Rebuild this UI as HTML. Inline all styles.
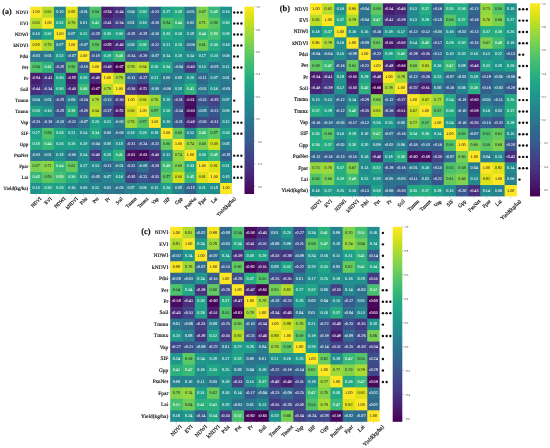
<!DOCTYPE html>
<html><head><meta charset="utf-8"><title>Correlation heatmaps</title>
<style>
html,body{margin:0;padding:0;background:#fff}
svg{display:block}
text{text-rendering:geometricPrecision;font-family:"Liberation Serif","Times New Roman",serif}
.an{text-anchor:middle;stroke-width:0.07px}
.w{fill:#fff;stroke:#fff;opacity:0.92}
.d{fill:#262626;stroke:#262626;opacity:0.9}
.yl{text-anchor:end;fill:#111;stroke:#111;stroke-width:0.16px}
.xl{text-anchor:middle;fill:#111;stroke:#111;stroke-width:0.16px}
.cb{fill:#222}
.pl{font-weight:bold;fill:#111;stroke:#111;stroke-width:0.15px}
.st{fill:#111}
.tk{stroke:#444;stroke-width:0.25}
</style></head>
<body>
<svg width="550" height="448" viewBox="0 0 550 448">
<rect width="550" height="448" fill="#fff"/>
<g id="panel-a">
<text class="pl" font-size="8.10" x="2.2" y="14.2">(a)</text>
<g>
<rect x="30.20" y="6.70" width="12.47" height="11.62" fill="#fde725"/><rect x="42.07" y="6.70" width="12.47" height="11.62" fill="#b8de29"/><rect x="53.94" y="6.70" width="12.47" height="11.62" fill="#24878e"/><rect x="65.81" y="6.70" width="12.47" height="11.62" fill="#ece51b"/><rect x="77.68" y="6.70" width="12.47" height="11.62" fill="#2a778e"/><rect x="89.55" y="6.70" width="12.47" height="11.62" fill="#50c46a"/><rect x="101.42" y="6.70" width="12.47" height="11.62" fill="#481c6e"/><rect x="113.29" y="6.70" width="12.47" height="11.62" fill="#46307e"/><rect x="125.16" y="6.70" width="12.47" height="11.62" fill="#277e8e"/><rect x="137.04" y="6.70" width="12.47" height="11.62" fill="#20a386"/><rect x="148.91" y="6.70" width="12.47" height="11.62" fill="#39558c"/><rect x="160.78" y="6.70" width="12.47" height="11.62" fill="#1fa088"/><rect x="172.65" y="6.70" width="12.47" height="11.62" fill="#25ab82"/><rect x="184.52" y="6.70" width="12.47" height="11.62" fill="#2a778e"/><rect x="196.39" y="6.70" width="12.47" height="11.62" fill="#7cd250"/><rect x="208.26" y="6.70" width="12.47" height="11.62" fill="#37b878"/><rect x="220.13" y="6.70" width="11.87" height="11.62" fill="#20928c"/>
<rect x="30.20" y="17.72" width="12.47" height="11.62" fill="#b8de29"/><rect x="42.07" y="17.72" width="12.47" height="11.62" fill="#fde725"/><rect x="53.94" y="17.72" width="12.47" height="11.62" fill="#21a685"/><rect x="65.81" y="17.72" width="12.47" height="11.62" fill="#a8db34"/><rect x="77.68" y="17.72" width="12.47" height="11.62" fill="#297a8e"/><rect x="89.55" y="17.72" width="12.47" height="11.62" fill="#2eb37c"/><rect x="101.42" y="17.72" width="12.47" height="11.62" fill="#453581"/><rect x="113.29" y="17.72" width="12.47" height="11.62" fill="#414287"/><rect x="125.16" y="17.72" width="12.47" height="11.62" fill="#297a8e"/><rect x="137.04" y="17.72" width="12.47" height="11.62" fill="#20928c"/><rect x="148.91" y="17.72" width="12.47" height="11.62" fill="#365c8d"/><rect x="160.78" y="17.72" width="12.47" height="11.62" fill="#50c46a"/><rect x="172.65" y="17.72" width="12.47" height="11.62" fill="#35b779"/><rect x="184.52" y="17.72" width="12.47" height="11.62" fill="#297a8e"/><rect x="196.39" y="17.72" width="12.47" height="11.62" fill="#8bd646"/><rect x="208.26" y="17.72" width="12.47" height="11.62" fill="#5cc863"/><rect x="220.13" y="17.72" width="11.87" height="11.62" fill="#20a386"/>
<rect x="30.20" y="28.74" width="12.47" height="11.62" fill="#24878e"/><rect x="42.07" y="28.74" width="12.47" height="11.62" fill="#21a685"/><rect x="53.94" y="28.74" width="12.47" height="11.62" fill="#fde725"/><rect x="65.81" y="28.74" width="12.47" height="11.62" fill="#26828e"/><rect x="77.68" y="28.74" width="12.47" height="11.62" fill="#1f988b"/><rect x="89.55" y="28.74" width="12.47" height="11.62" fill="#3b528b"/><rect x="101.42" y="28.74" width="12.47" height="11.62" fill="#20a386"/><rect x="113.29" y="28.74" width="12.47" height="11.62" fill="#20a386"/><rect x="125.16" y="28.74" width="12.47" height="11.62" fill="#3b528b"/><rect x="137.04" y="28.74" width="12.47" height="11.62" fill="#3b528b"/><rect x="148.91" y="28.74" width="12.47" height="11.62" fill="#306a8e"/><rect x="160.78" y="28.74" width="12.47" height="11.62" fill="#22a884"/><rect x="172.65" y="28.74" width="12.47" height="11.62" fill="#1f9e89"/><rect x="184.52" y="28.74" width="12.47" height="11.62" fill="#218e8d"/><rect x="196.39" y="28.74" width="12.47" height="11.62" fill="#35b779"/><rect x="208.26" y="28.74" width="12.47" height="11.62" fill="#44bf70"/><rect x="220.13" y="28.74" width="11.87" height="11.62" fill="#1fa287"/>
<rect x="30.20" y="39.75" width="12.47" height="11.62" fill="#ece51b"/><rect x="42.07" y="39.75" width="12.47" height="11.62" fill="#a8db34"/><rect x="53.94" y="39.75" width="12.47" height="11.62" fill="#26828e"/><rect x="65.81" y="39.75" width="12.47" height="11.62" fill="#fde725"/><rect x="77.68" y="39.75" width="12.47" height="11.62" fill="#2e6e8e"/><rect x="89.55" y="39.75" width="12.47" height="11.62" fill="#5cc863"/><rect x="101.42" y="39.75" width="12.47" height="11.62" fill="#481b6d"/><rect x="113.29" y="39.75" width="12.47" height="11.62" fill="#482979"/><rect x="125.16" y="39.75" width="12.47" height="11.62" fill="#25838e"/><rect x="137.04" y="39.75" width="12.47" height="11.62" fill="#25ab82"/><rect x="148.91" y="39.75" width="12.47" height="11.62" fill="#39568c"/><rect x="160.78" y="39.75" width="12.47" height="11.62" fill="#1f968b"/><rect x="172.65" y="39.75" width="12.47" height="11.62" fill="#1fa188"/><rect x="184.52" y="39.75" width="12.47" height="11.62" fill="#2d708e"/><rect x="196.39" y="39.75" width="12.47" height="11.62" fill="#67cc5c"/><rect x="208.26" y="39.75" width="12.47" height="11.62" fill="#28ae80"/><rect x="220.13" y="39.75" width="11.87" height="11.62" fill="#21908d"/>
<rect x="30.20" y="50.77" width="12.47" height="11.62" fill="#2a778e"/><rect x="42.07" y="50.77" width="12.47" height="11.62" fill="#297a8e"/><rect x="53.94" y="50.77" width="12.47" height="11.62" fill="#1f988b"/><rect x="65.81" y="50.77" width="12.47" height="11.62" fill="#2e6e8e"/><rect x="77.68" y="50.77" width="12.47" height="11.62" fill="#fde725"/><rect x="89.55" y="50.77" width="12.47" height="11.62" fill="#365c8d"/><rect x="101.42" y="50.77" width="12.47" height="11.62" fill="#1fa287"/><rect x="113.29" y="50.77" width="12.47" height="11.62" fill="#3aba76"/><rect x="125.16" y="50.77" width="12.47" height="11.62" fill="#3a538b"/><rect x="137.04" y="50.77" width="12.47" height="11.62" fill="#3e4c8a"/><rect x="148.91" y="50.77" width="12.47" height="11.62" fill="#2e6e8e"/><rect x="160.78" y="50.77" width="12.47" height="11.62" fill="#228d8d"/><rect x="172.65" y="50.77" width="12.47" height="11.62" fill="#1f958b"/><rect x="184.52" y="50.77" width="12.47" height="11.62" fill="#228d8d"/><rect x="196.39" y="50.77" width="12.47" height="11.62" fill="#21918c"/><rect x="208.26" y="50.77" width="12.47" height="11.62" fill="#1f998a"/><rect x="220.13" y="50.77" width="11.87" height="11.62" fill="#25838e"/>
<rect x="30.20" y="61.79" width="12.47" height="11.62" fill="#50c46a"/><rect x="42.07" y="61.79" width="12.47" height="11.62" fill="#2eb37c"/><rect x="53.94" y="61.79" width="12.47" height="11.62" fill="#3b528b"/><rect x="65.81" y="61.79" width="12.47" height="11.62" fill="#5cc863"/><rect x="77.68" y="61.79" width="12.47" height="11.62" fill="#365c8d"/><rect x="89.55" y="61.79" width="12.47" height="11.62" fill="#fde725"/><rect x="101.42" y="61.79" width="12.47" height="11.62" fill="#482677"/><rect x="113.29" y="61.79" width="12.47" height="11.62" fill="#440154"/><rect x="125.16" y="61.79" width="12.47" height="11.62" fill="#aadc32"/><rect x="137.04" y="61.79" width="12.47" height="11.62" fill="#c0df25"/><rect x="148.91" y="61.79" width="12.47" height="11.62" fill="#1fa188"/><rect x="160.78" y="61.79" width="12.47" height="11.62" fill="#23a983"/><rect x="172.65" y="61.79" width="12.47" height="11.62" fill="#2c728e"/><rect x="184.52" y="61.79" width="12.47" height="11.62" fill="#453882"/><rect x="196.39" y="61.79" width="12.47" height="11.62" fill="#228b8d"/><rect x="208.26" y="61.79" width="12.47" height="11.62" fill="#2c718e"/><rect x="220.13" y="61.79" width="11.87" height="11.62" fill="#23888e"/>
<rect x="30.20" y="72.81" width="12.47" height="11.62" fill="#481c6e"/><rect x="42.07" y="72.81" width="12.47" height="11.62" fill="#453581"/><rect x="53.94" y="72.81" width="12.47" height="11.62" fill="#20a386"/><rect x="65.81" y="72.81" width="12.47" height="11.62" fill="#481b6d"/><rect x="77.68" y="72.81" width="12.47" height="11.62" fill="#1fa287"/><rect x="89.55" y="72.81" width="12.47" height="11.62" fill="#482677"/><rect x="101.42" y="72.81" width="12.47" height="11.62" fill="#fde725"/><rect x="113.29" y="72.81" width="12.47" height="11.62" fill="#aadc32"/><rect x="125.16" y="72.81" width="12.47" height="11.62" fill="#31678e"/><rect x="137.04" y="72.81" width="12.47" height="11.62" fill="#3c4f8a"/><rect x="148.91" y="72.81" width="12.47" height="11.62" fill="#1f968b"/><rect x="160.78" y="72.81" width="12.47" height="11.62" fill="#2a788e"/><rect x="172.65" y="72.81" width="12.47" height="11.62" fill="#27808e"/><rect x="184.52" y="72.81" width="12.47" height="11.62" fill="#1f958b"/><rect x="196.39" y="72.81" width="12.47" height="11.62" fill="#31688e"/><rect x="208.26" y="72.81" width="12.47" height="11.62" fill="#26828e"/><rect x="220.13" y="72.81" width="11.87" height="11.62" fill="#297a8e"/>
<rect x="30.20" y="83.82" width="12.47" height="11.62" fill="#46307e"/><rect x="42.07" y="83.82" width="12.47" height="11.62" fill="#414287"/><rect x="53.94" y="83.82" width="12.47" height="11.62" fill="#20a386"/><rect x="65.81" y="83.82" width="12.47" height="11.62" fill="#482979"/><rect x="77.68" y="83.82" width="12.47" height="11.62" fill="#3aba76"/><rect x="89.55" y="83.82" width="12.47" height="11.62" fill="#440154"/><rect x="101.42" y="83.82" width="12.47" height="11.62" fill="#aadc32"/><rect x="113.29" y="83.82" width="12.47" height="11.62" fill="#fde725"/><rect x="125.16" y="83.82" width="12.47" height="11.62" fill="#443b84"/><rect x="137.04" y="83.82" width="12.47" height="11.62" fill="#482071"/><rect x="148.91" y="83.82" width="12.47" height="11.62" fill="#2a788e"/><rect x="160.78" y="83.82" width="12.47" height="11.62" fill="#2d708e"/><rect x="172.65" y="83.82" width="12.47" height="11.62" fill="#218e8d"/><rect x="184.52" y="83.82" width="12.47" height="11.62" fill="#2eb37c"/><rect x="196.39" y="83.82" width="12.47" height="11.62" fill="#2a778e"/><rect x="208.26" y="83.82" width="12.47" height="11.62" fill="#21908d"/><rect x="220.13" y="83.82" width="11.87" height="11.62" fill="#2b748e"/>
<rect x="30.20" y="94.84" width="12.47" height="11.62" fill="#277e8e"/><rect x="42.07" y="94.84" width="12.47" height="11.62" fill="#297a8e"/><rect x="53.94" y="94.84" width="12.47" height="11.62" fill="#3b528b"/><rect x="65.81" y="94.84" width="12.47" height="11.62" fill="#25838e"/><rect x="77.68" y="94.84" width="12.47" height="11.62" fill="#3a538b"/><rect x="89.55" y="94.84" width="12.47" height="11.62" fill="#aadc32"/><rect x="101.42" y="94.84" width="12.47" height="11.62" fill="#31678e"/><rect x="113.29" y="94.84" width="12.47" height="11.62" fill="#443b84"/><rect x="125.16" y="94.84" width="12.47" height="11.62" fill="#fde725"/><rect x="137.04" y="94.84" width="12.47" height="11.62" fill="#d0e11c"/><rect x="148.91" y="94.84" width="12.47" height="11.62" fill="#a0da39"/><rect x="160.78" y="94.84" width="12.47" height="11.62" fill="#20938c"/><rect x="172.65" y="94.84" width="12.47" height="11.62" fill="#3f4889"/><rect x="184.52" y="94.84" width="12.47" height="11.62" fill="#470e61"/><rect x="196.39" y="94.84" width="12.47" height="11.62" fill="#39568c"/><rect x="208.26" y="94.84" width="12.47" height="11.62" fill="#424186"/><rect x="220.13" y="94.84" width="11.87" height="11.62" fill="#26828e"/>
<rect x="30.20" y="105.86" width="12.47" height="11.62" fill="#20a386"/><rect x="42.07" y="105.86" width="12.47" height="11.62" fill="#20928c"/><rect x="53.94" y="105.86" width="12.47" height="11.62" fill="#3b528b"/><rect x="65.81" y="105.86" width="12.47" height="11.62" fill="#25ab82"/><rect x="77.68" y="105.86" width="12.47" height="11.62" fill="#3e4c8a"/><rect x="89.55" y="105.86" width="12.47" height="11.62" fill="#c0df25"/><rect x="101.42" y="105.86" width="12.47" height="11.62" fill="#3c4f8a"/><rect x="113.29" y="105.86" width="12.47" height="11.62" fill="#482071"/><rect x="125.16" y="105.86" width="12.47" height="11.62" fill="#d0e11c"/><rect x="137.04" y="105.86" width="12.47" height="11.62" fill="#fde725"/><rect x="148.91" y="105.86" width="12.47" height="11.62" fill="#5ac864"/><rect x="160.78" y="105.86" width="12.47" height="11.62" fill="#1fa188"/><rect x="172.65" y="105.86" width="12.47" height="11.62" fill="#3a538b"/><rect x="184.52" y="105.86" width="12.47" height="11.62" fill="#460a5d"/><rect x="196.39" y="105.86" width="12.47" height="11.62" fill="#2c718e"/><rect x="208.26" y="105.86" width="12.47" height="11.62" fill="#39568c"/><rect x="220.13" y="105.86" width="11.87" height="11.62" fill="#25858e"/>
<rect x="30.20" y="116.88" width="12.47" height="11.62" fill="#39558c"/><rect x="42.07" y="116.88" width="12.47" height="11.62" fill="#365c8d"/><rect x="53.94" y="116.88" width="12.47" height="11.62" fill="#306a8e"/><rect x="65.81" y="116.88" width="12.47" height="11.62" fill="#39568c"/><rect x="77.68" y="116.88" width="12.47" height="11.62" fill="#2e6e8e"/><rect x="89.55" y="116.88" width="12.47" height="11.62" fill="#1fa188"/><rect x="101.42" y="116.88" width="12.47" height="11.62" fill="#1f968b"/><rect x="113.29" y="116.88" width="12.47" height="11.62" fill="#2a788e"/><rect x="125.16" y="116.88" width="12.47" height="11.62" fill="#a0da39"/><rect x="137.04" y="116.88" width="12.47" height="11.62" fill="#5ac864"/><rect x="148.91" y="116.88" width="12.47" height="11.62" fill="#fde725"/><rect x="160.78" y="116.88" width="12.47" height="11.62" fill="#20938c"/><rect x="172.65" y="116.88" width="12.47" height="11.62" fill="#38598c"/><rect x="184.52" y="116.88" width="12.47" height="11.62" fill="#482979"/><rect x="196.39" y="116.88" width="12.47" height="11.62" fill="#3d4d8a"/><rect x="208.26" y="116.88" width="12.47" height="11.62" fill="#3f4889"/><rect x="220.13" y="116.88" width="11.87" height="11.62" fill="#238a8d"/>
<rect x="30.20" y="127.89" width="12.47" height="11.62" fill="#1fa088"/><rect x="42.07" y="127.89" width="12.47" height="11.62" fill="#50c46a"/><rect x="53.94" y="127.89" width="12.47" height="11.62" fill="#22a884"/><rect x="65.81" y="127.89" width="12.47" height="11.62" fill="#1f968b"/><rect x="77.68" y="127.89" width="12.47" height="11.62" fill="#228d8d"/><rect x="89.55" y="127.89" width="12.47" height="11.62" fill="#23a983"/><rect x="101.42" y="127.89" width="12.47" height="11.62" fill="#2a788e"/><rect x="113.29" y="127.89" width="12.47" height="11.62" fill="#2d708e"/><rect x="125.16" y="127.89" width="12.47" height="11.62" fill="#20938c"/><rect x="137.04" y="127.89" width="12.47" height="11.62" fill="#1fa188"/><rect x="148.91" y="127.89" width="12.47" height="11.62" fill="#20938c"/><rect x="160.78" y="127.89" width="12.47" height="11.62" fill="#fde725"/><rect x="172.65" y="127.89" width="12.47" height="11.62" fill="#63cb5f"/><rect x="184.52" y="127.89" width="12.47" height="11.62" fill="#238a8d"/><rect x="196.39" y="127.89" width="12.47" height="11.62" fill="#40bd72"/><rect x="208.26" y="127.89" width="12.47" height="11.62" fill="#5ac864"/><rect x="220.13" y="127.89" width="11.87" height="11.62" fill="#1f9e89"/>
<rect x="30.20" y="138.91" width="12.47" height="11.62" fill="#25ab82"/><rect x="42.07" y="138.91" width="12.47" height="11.62" fill="#35b779"/><rect x="53.94" y="138.91" width="12.47" height="11.62" fill="#1f9e89"/><rect x="65.81" y="138.91" width="12.47" height="11.62" fill="#1fa188"/><rect x="77.68" y="138.91" width="12.47" height="11.62" fill="#1f958b"/><rect x="89.55" y="138.91" width="12.47" height="11.62" fill="#2c728e"/><rect x="101.42" y="138.91" width="12.47" height="11.62" fill="#27808e"/><rect x="113.29" y="138.91" width="12.47" height="11.62" fill="#218e8d"/><rect x="125.16" y="138.91" width="12.47" height="11.62" fill="#3f4889"/><rect x="137.04" y="138.91" width="12.47" height="11.62" fill="#3a538b"/><rect x="148.91" y="138.91" width="12.47" height="11.62" fill="#38598c"/><rect x="160.78" y="138.91" width="12.47" height="11.62" fill="#63cb5f"/><rect x="172.65" y="138.91" width="12.47" height="11.62" fill="#fde725"/><rect x="184.52" y="138.91" width="12.47" height="11.62" fill="#98d83e"/><rect x="196.39" y="138.91" width="12.47" height="11.62" fill="#7fd34e"/><rect x="208.26" y="138.91" width="12.47" height="11.62" fill="#d0e11c"/><rect x="220.13" y="138.91" width="11.87" height="11.62" fill="#27808e"/>
<rect x="30.20" y="149.93" width="12.47" height="11.62" fill="#2a778e"/><rect x="42.07" y="149.93" width="12.47" height="11.62" fill="#297a8e"/><rect x="53.94" y="149.93" width="12.47" height="11.62" fill="#218e8d"/><rect x="65.81" y="149.93" width="12.47" height="11.62" fill="#2d708e"/><rect x="77.68" y="149.93" width="12.47" height="11.62" fill="#228d8d"/><rect x="89.55" y="149.93" width="12.47" height="11.62" fill="#453882"/><rect x="101.42" y="149.93" width="12.47" height="11.62" fill="#1f958b"/><rect x="113.29" y="149.93" width="12.47" height="11.62" fill="#2eb37c"/><rect x="125.16" y="149.93" width="12.47" height="11.62" fill="#470e61"/><rect x="137.04" y="149.93" width="12.47" height="11.62" fill="#460a5d"/><rect x="148.91" y="149.93" width="12.47" height="11.62" fill="#482979"/><rect x="160.78" y="149.93" width="12.47" height="11.62" fill="#238a8d"/><rect x="172.65" y="149.93" width="12.47" height="11.62" fill="#98d83e"/><rect x="184.52" y="149.93" width="12.47" height="11.62" fill="#fde725"/><rect x="196.39" y="149.93" width="12.47" height="11.62" fill="#22a884"/><rect x="208.26" y="149.93" width="12.47" height="11.62" fill="#37b878"/><rect x="220.13" y="149.93" width="11.87" height="11.62" fill="#33628d"/>
<rect x="30.20" y="160.95" width="12.47" height="11.62" fill="#7cd250"/><rect x="42.07" y="160.95" width="12.47" height="11.62" fill="#8bd646"/><rect x="53.94" y="160.95" width="12.47" height="11.62" fill="#35b779"/><rect x="65.81" y="160.95" width="12.47" height="11.62" fill="#67cc5c"/><rect x="77.68" y="160.95" width="12.47" height="11.62" fill="#21918c"/><rect x="89.55" y="160.95" width="12.47" height="11.62" fill="#228b8d"/><rect x="101.42" y="160.95" width="12.47" height="11.62" fill="#31688e"/><rect x="113.29" y="160.95" width="12.47" height="11.62" fill="#2a778e"/><rect x="125.16" y="160.95" width="12.47" height="11.62" fill="#39568c"/><rect x="137.04" y="160.95" width="12.47" height="11.62" fill="#2c718e"/><rect x="148.91" y="160.95" width="12.47" height="11.62" fill="#3d4d8a"/><rect x="160.78" y="160.95" width="12.47" height="11.62" fill="#40bd72"/><rect x="172.65" y="160.95" width="12.47" height="11.62" fill="#7fd34e"/><rect x="184.52" y="160.95" width="12.47" height="11.62" fill="#22a884"/><rect x="196.39" y="160.95" width="12.47" height="11.62" fill="#fde725"/><rect x="208.26" y="160.95" width="12.47" height="11.62" fill="#dde318"/><rect x="220.13" y="160.95" width="11.87" height="11.62" fill="#1f968b"/>
<rect x="30.20" y="171.96" width="12.47" height="11.62" fill="#37b878"/><rect x="42.07" y="171.96" width="12.47" height="11.62" fill="#5cc863"/><rect x="53.94" y="171.96" width="12.47" height="11.62" fill="#44bf70"/><rect x="65.81" y="171.96" width="12.47" height="11.62" fill="#28ae80"/><rect x="77.68" y="171.96" width="12.47" height="11.62" fill="#1f998a"/><rect x="89.55" y="171.96" width="12.47" height="11.62" fill="#2c718e"/><rect x="101.42" y="171.96" width="12.47" height="11.62" fill="#26828e"/><rect x="113.29" y="171.96" width="12.47" height="11.62" fill="#21908d"/><rect x="125.16" y="171.96" width="12.47" height="11.62" fill="#424186"/><rect x="137.04" y="171.96" width="12.47" height="11.62" fill="#39568c"/><rect x="148.91" y="171.96" width="12.47" height="11.62" fill="#3f4889"/><rect x="160.78" y="171.96" width="12.47" height="11.62" fill="#5ac864"/><rect x="172.65" y="171.96" width="12.47" height="11.62" fill="#d0e11c"/><rect x="184.52" y="171.96" width="12.47" height="11.62" fill="#37b878"/><rect x="196.39" y="171.96" width="12.47" height="11.62" fill="#dde318"/><rect x="208.26" y="171.96" width="12.47" height="11.62" fill="#fde725"/><rect x="220.13" y="171.96" width="11.87" height="11.62" fill="#218e8d"/>
<rect x="30.20" y="182.98" width="12.47" height="11.02" fill="#20928c"/><rect x="42.07" y="182.98" width="12.47" height="11.02" fill="#20a386"/><rect x="53.94" y="182.98" width="12.47" height="11.02" fill="#1fa287"/><rect x="65.81" y="182.98" width="12.47" height="11.02" fill="#21908d"/><rect x="77.68" y="182.98" width="12.47" height="11.02" fill="#25838e"/><rect x="89.55" y="182.98" width="12.47" height="11.02" fill="#23888e"/><rect x="101.42" y="182.98" width="12.47" height="11.02" fill="#297a8e"/><rect x="113.29" y="182.98" width="12.47" height="11.02" fill="#2b748e"/><rect x="125.16" y="182.98" width="12.47" height="11.02" fill="#26828e"/><rect x="137.04" y="182.98" width="12.47" height="11.02" fill="#25858e"/><rect x="148.91" y="182.98" width="12.47" height="11.02" fill="#238a8d"/><rect x="160.78" y="182.98" width="12.47" height="11.02" fill="#1f9e89"/><rect x="172.65" y="182.98" width="12.47" height="11.02" fill="#27808e"/><rect x="184.52" y="182.98" width="12.47" height="11.02" fill="#33628d"/><rect x="196.39" y="182.98" width="12.47" height="11.02" fill="#1f968b"/><rect x="208.26" y="182.98" width="12.47" height="11.02" fill="#218e8d"/><rect x="220.13" y="182.98" width="11.87" height="11.02" fill="#fde725"/>
</g>
<g font-size="4.10">
<text class="an d" x="36.14" y="13.16">1.00</text><text class="an d" x="48.01" y="13.16">0.82</text><text class="an w" x="59.88" y="13.16">0.10</text><text class="an d" x="71.75" y="13.16">0.95</text><text class="an w" x="83.62" y="13.16">-0.01</text><text class="an d" x="95.49" y="13.16">0.54</text><text class="an w" x="107.36" y="13.16">-0.54</text><text class="an w" x="119.23" y="13.16">-0.44</text><text class="an w" x="131.10" y="13.16">0.04</text><text class="an w" x="142.97" y="13.16">0.30</text><text class="an w" x="154.84" y="13.16">-0.23</text><text class="an w" x="166.71" y="13.16">0.27</text><text class="an w" x="178.58" y="13.16">0.35</text><text class="an w" x="190.45" y="13.16">-0.01</text><text class="an d" x="202.32" y="13.16">0.67</text><text class="an w" x="214.19" y="13.16">0.45</text><text class="an w" x="226.06" y="13.16">0.18</text>
<text class="an d" x="36.14" y="24.18">0.82</text><text class="an d" x="48.01" y="24.18">1.00</text><text class="an w" x="59.88" y="24.18">0.32</text><text class="an d" x="71.75" y="24.18">0.78</text><text class="an w" x="83.62" y="24.18">0.01</text><text class="an w" x="95.49" y="24.18">0.41</text><text class="an w" x="107.36" y="24.18">-0.41</text><text class="an w" x="119.23" y="24.18">-0.34</text><text class="an w" x="131.10" y="24.18">0.01</text><text class="an w" x="142.97" y="24.18">0.18</text><text class="an w" x="154.84" y="24.18">-0.19</text><text class="an d" x="166.71" y="24.18">0.54</text><text class="an w" x="178.58" y="24.18">0.44</text><text class="an w" x="190.45" y="24.18">0.01</text><text class="an d" x="202.32" y="24.18">0.71</text><text class="an d" x="214.19" y="24.18">0.58</text><text class="an w" x="226.06" y="24.18">0.30</text>
<text class="an w" x="36.14" y="35.20">0.10</text><text class="an w" x="48.01" y="35.20">0.32</text><text class="an d" x="59.88" y="35.20">1.00</text><text class="an w" x="71.75" y="35.20">0.07</text><text class="an w" x="83.62" y="35.20">0.22</text><text class="an w" x="95.49" y="35.20">-0.25</text><text class="an w" x="107.36" y="35.20">0.30</text><text class="an w" x="119.23" y="35.20">0.30</text><text class="an w" x="131.10" y="35.20">-0.25</text><text class="an w" x="142.97" y="35.20">-0.25</text><text class="an w" x="154.84" y="35.20">-0.10</text><text class="an w" x="166.71" y="35.20">0.33</text><text class="an w" x="178.58" y="35.20">0.26</text><text class="an w" x="190.45" y="35.20">0.15</text><text class="an w" x="202.32" y="35.20">0.44</text><text class="an w" x="214.19" y="35.20">0.50</text><text class="an w" x="226.06" y="35.20">0.29</text>
<text class="an d" x="36.14" y="46.21">0.95</text><text class="an d" x="48.01" y="46.21">0.78</text><text class="an w" x="59.88" y="46.21">0.07</text><text class="an d" x="71.75" y="46.21">1.00</text><text class="an w" x="83.62" y="46.21">-0.07</text><text class="an d" x="95.49" y="46.21">0.58</text><text class="an w" x="107.36" y="46.21">-0.55</text><text class="an w" x="119.23" y="46.21">-0.48</text><text class="an w" x="131.10" y="46.21">0.08</text><text class="an w" x="142.97" y="46.21">0.35</text><text class="an w" x="154.84" y="46.21">-0.22</text><text class="an w" x="166.71" y="46.21">0.21</text><text class="an w" x="178.58" y="46.21">0.28</text><text class="an w" x="190.45" y="46.21">-0.06</text><text class="an d" x="202.32" y="46.21">0.61</text><text class="an w" x="214.19" y="46.21">0.38</text><text class="an w" x="226.06" y="46.21">0.16</text>
<text class="an w" x="36.14" y="57.23">-0.01</text><text class="an w" x="48.01" y="57.23">0.01</text><text class="an w" x="59.88" y="57.23">0.22</text><text class="an w" x="71.75" y="57.23">-0.07</text><text class="an d" x="83.62" y="57.23">1.00</text><text class="an w" x="95.49" y="57.23">-0.19</text><text class="an w" x="107.36" y="57.23">0.29</text><text class="an w" x="119.23" y="57.23">0.46</text><text class="an w" x="131.10" y="57.23">-0.24</text><text class="an w" x="142.97" y="57.23">-0.29</text><text class="an w" x="154.84" y="57.23">-0.07</text><text class="an w" x="166.71" y="57.23">0.14</text><text class="an w" x="178.58" y="57.23">0.20</text><text class="an w" x="190.45" y="57.23">0.14</text><text class="an w" x="202.32" y="57.23">0.17</text><text class="an w" x="214.19" y="57.23">0.23</text><text class="an w" x="226.06" y="57.23">0.08</text>
<text class="an d" x="36.14" y="68.25">0.54</text><text class="an w" x="48.01" y="68.25">0.41</text><text class="an w" x="59.88" y="68.25">-0.25</text><text class="an d" x="71.75" y="68.25">0.58</text><text class="an w" x="83.62" y="68.25">-0.19</text><text class="an d" x="95.49" y="68.25">1.00</text><text class="an w" x="107.36" y="68.25">-0.49</text><text class="an w" x="119.23" y="68.25">-0.67</text><text class="an d" x="131.10" y="68.25">0.79</text><text class="an d" x="142.97" y="68.25">0.84</text><text class="an w" x="154.84" y="68.25">0.28</text><text class="an w" x="166.71" y="68.25">0.34</text><text class="an w" x="178.58" y="68.25">-0.04</text><text class="an w" x="190.45" y="68.25">-0.40</text><text class="an w" x="202.32" y="68.25">0.13</text><text class="an w" x="214.19" y="68.25">-0.05</text><text class="an w" x="226.06" y="68.25">0.11</text>
<text class="an w" x="36.14" y="79.27">-0.54</text><text class="an w" x="48.01" y="79.27">-0.41</text><text class="an w" x="59.88" y="79.27">0.30</text><text class="an w" x="71.75" y="79.27">-0.55</text><text class="an w" x="83.62" y="79.27">0.29</text><text class="an w" x="95.49" y="79.27">-0.49</text><text class="an d" x="107.36" y="79.27">1.00</text><text class="an d" x="119.23" y="79.27">0.79</text><text class="an w" x="131.10" y="79.27">-0.12</text><text class="an w" x="142.97" y="79.27">-0.27</text><text class="an w" x="154.84" y="79.27">0.21</text><text class="an w" x="166.71" y="79.27">0.00</text><text class="an w" x="178.58" y="79.27">0.05</text><text class="an w" x="190.45" y="79.27">0.20</text><text class="an w" x="202.32" y="79.27">-0.11</text><text class="an w" x="214.19" y="79.27">0.07</text><text class="an w" x="226.06" y="79.27">0.01</text>
<text class="an w" x="36.14" y="90.29">-0.44</text><text class="an w" x="48.01" y="90.29">-0.34</text><text class="an w" x="59.88" y="90.29">0.30</text><text class="an w" x="71.75" y="90.29">-0.48</text><text class="an w" x="83.62" y="90.29">0.46</text><text class="an w" x="95.49" y="90.29">-0.67</text><text class="an d" x="107.36" y="90.29">0.79</text><text class="an d" x="119.23" y="90.29">1.00</text><text class="an w" x="131.10" y="90.29">-0.38</text><text class="an w" x="142.97" y="90.29">-0.52</text><text class="an w" x="154.84" y="90.29">-0.00</text><text class="an w" x="166.71" y="90.29">-0.06</text><text class="an w" x="178.58" y="90.29">0.15</text><text class="an w" x="190.45" y="90.29">0.41</text><text class="an w" x="202.32" y="90.29">-0.01</text><text class="an w" x="214.19" y="90.29">0.16</text><text class="an w" x="226.06" y="90.29">-0.03</text>
<text class="an w" x="36.14" y="101.30">0.04</text><text class="an w" x="48.01" y="101.30">0.01</text><text class="an w" x="59.88" y="101.30">-0.25</text><text class="an w" x="71.75" y="101.30">0.08</text><text class="an w" x="83.62" y="101.30">-0.24</text><text class="an d" x="95.49" y="101.30">0.79</text><text class="an w" x="107.36" y="101.30">-0.12</text><text class="an w" x="119.23" y="101.30">-0.38</text><text class="an d" x="131.10" y="101.30">1.00</text><text class="an d" x="142.97" y="101.30">0.88</text><text class="an d" x="154.84" y="101.30">0.76</text><text class="an w" x="166.71" y="101.30">0.19</text><text class="an w" x="178.58" y="101.30">-0.31</text><text class="an w" x="190.45" y="101.30">-0.61</text><text class="an w" x="202.32" y="101.30">-0.22</text><text class="an w" x="214.19" y="101.30">-0.35</text><text class="an w" x="226.06" y="101.30">0.07</text>
<text class="an w" x="36.14" y="112.32">0.30</text><text class="an w" x="48.01" y="112.32">0.18</text><text class="an w" x="59.88" y="112.32">-0.25</text><text class="an w" x="71.75" y="112.32">0.35</text><text class="an w" x="83.62" y="112.32">-0.29</text><text class="an d" x="95.49" y="112.32">0.84</text><text class="an w" x="107.36" y="112.32">-0.27</text><text class="an w" x="119.23" y="112.32">-0.52</text><text class="an d" x="131.10" y="112.32">0.88</text><text class="an d" x="142.97" y="112.32">1.00</text><text class="an d" x="154.84" y="112.32">0.57</text><text class="an w" x="166.71" y="112.32">0.28</text><text class="an w" x="178.58" y="112.32">-0.24</text><text class="an w" x="190.45" y="112.32">-0.63</text><text class="an w" x="202.32" y="112.32">-0.05</text><text class="an w" x="214.19" y="112.32">-0.22</text><text class="an w" x="226.06" y="112.32">0.09</text>
<text class="an w" x="36.14" y="123.34">-0.23</text><text class="an w" x="48.01" y="123.34">-0.19</text><text class="an w" x="59.88" y="123.34">-0.10</text><text class="an w" x="71.75" y="123.34">-0.22</text><text class="an w" x="83.62" y="123.34">-0.07</text><text class="an w" x="95.49" y="123.34">0.28</text><text class="an w" x="107.36" y="123.34">0.21</text><text class="an w" x="119.23" y="123.34">-0.00</text><text class="an d" x="131.10" y="123.34">0.76</text><text class="an d" x="142.97" y="123.34">0.57</text><text class="an d" x="154.84" y="123.34">1.00</text><text class="an w" x="166.71" y="123.34">0.19</text><text class="an w" x="178.58" y="123.34">-0.21</text><text class="an w" x="190.45" y="123.34">-0.48</text><text class="an w" x="202.32" y="123.34">-0.28</text><text class="an w" x="214.19" y="123.34">-0.31</text><text class="an w" x="226.06" y="123.34">0.12</text>
<text class="an w" x="36.14" y="134.36">0.27</text><text class="an d" x="48.01" y="134.36">0.54</text><text class="an w" x="59.88" y="134.36">0.33</text><text class="an w" x="71.75" y="134.36">0.21</text><text class="an w" x="83.62" y="134.36">0.14</text><text class="an w" x="95.49" y="134.36">0.34</text><text class="an w" x="107.36" y="134.36">0.00</text><text class="an w" x="119.23" y="134.36">-0.06</text><text class="an w" x="131.10" y="134.36">0.19</text><text class="an w" x="142.97" y="134.36">0.28</text><text class="an w" x="154.84" y="134.36">0.19</text><text class="an d" x="166.71" y="134.36">1.00</text><text class="an d" x="178.58" y="134.36">0.60</text><text class="an w" x="190.45" y="134.36">0.12</text><text class="an w" x="202.32" y="134.36">0.49</text><text class="an d" x="214.19" y="134.36">0.57</text><text class="an w" x="226.06" y="134.36">0.26</text>
<text class="an w" x="36.14" y="145.37">0.35</text><text class="an w" x="48.01" y="145.37">0.44</text><text class="an w" x="59.88" y="145.37">0.26</text><text class="an w" x="71.75" y="145.37">0.28</text><text class="an w" x="83.62" y="145.37">0.20</text><text class="an w" x="95.49" y="145.37">-0.04</text><text class="an w" x="107.36" y="145.37">0.05</text><text class="an w" x="119.23" y="145.37">0.15</text><text class="an w" x="131.10" y="145.37">-0.31</text><text class="an w" x="142.97" y="145.37">-0.24</text><text class="an w" x="154.84" y="145.37">-0.21</text><text class="an d" x="166.71" y="145.37">0.60</text><text class="an d" x="178.58" y="145.37">1.00</text><text class="an d" x="190.45" y="145.37">0.74</text><text class="an d" x="202.32" y="145.37">0.68</text><text class="an d" x="214.19" y="145.37">0.88</text><text class="an w" x="226.06" y="145.37">0.05</text>
<text class="an w" x="36.14" y="156.39">-0.01</text><text class="an w" x="48.01" y="156.39">0.01</text><text class="an w" x="59.88" y="156.39">0.15</text><text class="an w" x="71.75" y="156.39">-0.06</text><text class="an w" x="83.62" y="156.39">0.14</text><text class="an w" x="95.49" y="156.39">-0.40</text><text class="an w" x="107.36" y="156.39">0.20</text><text class="an w" x="119.23" y="156.39">0.41</text><text class="an w" x="131.10" y="156.39">-0.61</text><text class="an w" x="142.97" y="156.39">-0.63</text><text class="an w" x="154.84" y="156.39">-0.48</text><text class="an w" x="166.71" y="156.39">0.12</text><text class="an d" x="178.58" y="156.39">0.74</text><text class="an d" x="190.45" y="156.39">1.00</text><text class="an w" x="202.32" y="156.39">0.33</text><text class="an w" x="214.19" y="156.39">0.45</text><text class="an w" x="226.06" y="156.39">-0.15</text>
<text class="an d" x="36.14" y="167.41">0.67</text><text class="an d" x="48.01" y="167.41">0.71</text><text class="an w" x="59.88" y="167.41">0.44</text><text class="an d" x="71.75" y="167.41">0.61</text><text class="an w" x="83.62" y="167.41">0.17</text><text class="an w" x="95.49" y="167.41">0.13</text><text class="an w" x="107.36" y="167.41">-0.11</text><text class="an w" x="119.23" y="167.41">-0.01</text><text class="an w" x="131.10" y="167.41">-0.22</text><text class="an w" x="142.97" y="167.41">-0.05</text><text class="an w" x="154.84" y="167.41">-0.28</text><text class="an w" x="166.71" y="167.41">0.49</text><text class="an d" x="178.58" y="167.41">0.68</text><text class="an w" x="190.45" y="167.41">0.33</text><text class="an d" x="202.32" y="167.41">1.00</text><text class="an d" x="214.19" y="167.41">0.91</text><text class="an w" x="226.06" y="167.41">0.21</text>
<text class="an w" x="36.14" y="178.43">0.45</text><text class="an d" x="48.01" y="178.43">0.58</text><text class="an w" x="59.88" y="178.43">0.50</text><text class="an w" x="71.75" y="178.43">0.38</text><text class="an w" x="83.62" y="178.43">0.23</text><text class="an w" x="95.49" y="178.43">-0.05</text><text class="an w" x="107.36" y="178.43">0.07</text><text class="an w" x="119.23" y="178.43">0.16</text><text class="an w" x="131.10" y="178.43">-0.35</text><text class="an w" x="142.97" y="178.43">-0.22</text><text class="an w" x="154.84" y="178.43">-0.31</text><text class="an d" x="166.71" y="178.43">0.57</text><text class="an d" x="178.58" y="178.43">0.88</text><text class="an w" x="190.45" y="178.43">0.45</text><text class="an d" x="202.32" y="178.43">0.91</text><text class="an d" x="214.19" y="178.43">1.00</text><text class="an w" x="226.06" y="178.43">0.15</text>
<text class="an w" x="36.14" y="189.44">0.18</text><text class="an w" x="48.01" y="189.44">0.30</text><text class="an w" x="59.88" y="189.44">0.29</text><text class="an w" x="71.75" y="189.44">0.16</text><text class="an w" x="83.62" y="189.44">0.08</text><text class="an w" x="95.49" y="189.44">0.11</text><text class="an w" x="107.36" y="189.44">0.01</text><text class="an w" x="119.23" y="189.44">-0.03</text><text class="an w" x="131.10" y="189.44">0.07</text><text class="an w" x="142.97" y="189.44">0.09</text><text class="an w" x="154.84" y="189.44">0.12</text><text class="an w" x="166.71" y="189.44">0.26</text><text class="an w" x="178.58" y="189.44">0.05</text><text class="an w" x="190.45" y="189.44">-0.15</text><text class="an w" x="202.32" y="189.44">0.21</text><text class="an w" x="214.19" y="189.44">0.15</text><text class="an d" x="226.06" y="189.44">1.00</text>
</g>
<g font-size="4.95">
<line class="tk" x1="28.60" y1="12.21" x2="30.20" y2="12.21"/><text class="yl" x="28.20" y="13.64">NDVI</text>
<line class="tk" x1="28.60" y1="23.23" x2="30.20" y2="23.23"/><text class="yl" x="28.20" y="24.66">EVI</text>
<line class="tk" x1="28.60" y1="34.24" x2="30.20" y2="34.24"/><text class="yl" x="28.20" y="35.68">NDWI</text>
<line class="tk" x1="28.60" y1="45.26" x2="30.20" y2="45.26"/><text class="yl" x="28.20" y="46.70">kNDVI</text>
<line class="tk" x1="28.60" y1="56.28" x2="30.20" y2="56.28"/><text class="yl" x="28.20" y="57.71">Pdsi</text>
<line class="tk" x1="28.60" y1="67.30" x2="30.20" y2="67.30"/><text class="yl" x="28.20" y="68.73">Pet</text>
<line class="tk" x1="28.60" y1="78.31" x2="30.20" y2="78.31"/><text class="yl" x="28.20" y="79.75">Pr</text>
<line class="tk" x1="28.60" y1="89.33" x2="30.20" y2="89.33"/><text class="yl" x="28.20" y="90.77">Soil</text>
<line class="tk" x1="28.60" y1="100.35" x2="30.20" y2="100.35"/><text class="yl" x="28.20" y="101.78">Tmmn</text>
<line class="tk" x1="28.60" y1="111.37" x2="30.20" y2="111.37"/><text class="yl" x="28.20" y="112.80">Tmmx</text>
<line class="tk" x1="28.60" y1="122.39" x2="30.20" y2="122.39"/><text class="yl" x="28.20" y="123.82">Vap</text>
<line class="tk" x1="28.60" y1="133.40" x2="30.20" y2="133.40"/><text class="yl" x="28.20" y="134.84">SIF</text>
<line class="tk" x1="28.60" y1="144.42" x2="30.20" y2="144.42"/><text class="yl" x="28.20" y="145.85">Gpp</text>
<line class="tk" x1="28.60" y1="155.44" x2="30.20" y2="155.44"/><text class="yl" x="28.20" y="156.87">PsnNet</text>
<line class="tk" x1="28.60" y1="166.46" x2="30.20" y2="166.46"/><text class="yl" x="28.20" y="167.89">Fpar</text>
<line class="tk" x1="28.60" y1="177.47" x2="30.20" y2="177.47"/><text class="yl" x="28.20" y="178.91">Lai</text>
<line class="tk" x1="28.60" y1="188.49" x2="30.20" y2="188.49"/><text class="yl" x="28.20" y="189.92">Yield(kg/ha)</text>
<line class="tk" x1="36.14" y1="194.00" x2="36.14" y2="195.60"/><text class="xl" transform="translate(36.14 202.25) rotate(-45)" y="1.63">NDVI</text>
<line class="tk" x1="48.01" y1="194.00" x2="48.01" y2="195.60"/><text class="xl" transform="translate(48.01 200.79) rotate(-45)" y="1.63">EVI</text>
<line class="tk" x1="59.88" y1="194.00" x2="59.88" y2="195.60"/><text class="xl" transform="translate(59.88 202.64) rotate(-45)" y="1.63">NDWI</text>
<line class="tk" x1="71.75" y1="194.00" x2="71.75" y2="195.60"/><text class="xl" transform="translate(71.75 203.12) rotate(-45)" y="1.63">kNDVI</text>
<line class="tk" x1="83.62" y1="194.00" x2="83.62" y2="195.60"/><text class="xl" transform="translate(83.62 200.89) rotate(-45)" y="1.63">Pdsi</text>
<line class="tk" x1="95.49" y1="194.00" x2="95.49" y2="195.60"/><text class="xl" transform="translate(95.49 200.11) rotate(-45)" y="1.63">Pet</text>
<line class="tk" x1="107.36" y1="194.00" x2="107.36" y2="195.60"/><text class="xl" transform="translate(107.36 199.43) rotate(-45)" y="1.63">Pr</text>
<line class="tk" x1="119.23" y1="194.00" x2="119.23" y2="195.60"/><text class="xl" transform="translate(119.23 200.70) rotate(-45)" y="1.63">Soil</text>
<line class="tk" x1="131.10" y1="194.00" x2="131.10" y2="195.60"/><text class="xl" transform="translate(131.10 202.54) rotate(-45)" y="1.63">Tmmn</text>
<line class="tk" x1="142.97" y1="194.00" x2="142.97" y2="195.60"/><text class="xl" transform="translate(142.97 202.54) rotate(-45)" y="1.63">Tmmx</text>
<line class="tk" x1="154.84" y1="194.00" x2="154.84" y2="195.60"/><text class="xl" transform="translate(154.84 200.79) rotate(-45)" y="1.63">Vap</text>
<line class="tk" x1="166.71" y1="194.00" x2="166.71" y2="195.60"/><text class="xl" transform="translate(166.71 200.40) rotate(-45)" y="1.63">SIF</text>
<line class="tk" x1="178.58" y1="194.00" x2="178.58" y2="195.60"/><text class="xl" transform="translate(178.58 200.89) rotate(-45)" y="1.63">Gpp</text>
<line class="tk" x1="190.45" y1="194.00" x2="190.45" y2="195.60"/><text class="xl" transform="translate(190.45 202.93) rotate(-45)" y="1.63">PsnNet</text>
<line class="tk" x1="202.32" y1="194.00" x2="202.32" y2="195.60"/><text class="xl" transform="translate(202.32 201.08) rotate(-45)" y="1.63">Fpar</text>
<line class="tk" x1="214.19" y1="194.00" x2="214.19" y2="195.60"/><text class="xl" transform="translate(214.19 200.21) rotate(-45)" y="1.63">Lai</text>
<line class="tk" x1="226.06" y1="194.00" x2="226.06" y2="195.60"/><text class="xl" transform="translate(226.06 206.82) rotate(-45)" y="1.63">Yield(kg/ha)</text>
</g>
<g>
<circle class="st" cx="234.20" cy="12.46" r="1.18"/><circle class="st" cx="237.80" cy="12.46" r="1.18"/><circle class="st" cx="241.40" cy="12.46" r="1.18"/>
<circle class="st" cx="234.20" cy="23.48" r="1.18"/><circle class="st" cx="237.80" cy="23.48" r="1.18"/><circle class="st" cx="241.40" cy="23.48" r="1.18"/>
<circle class="st" cx="234.20" cy="34.49" r="1.18"/><circle class="st" cx="237.80" cy="34.49" r="1.18"/><circle class="st" cx="241.40" cy="34.49" r="1.18"/>
<circle class="st" cx="234.20" cy="45.51" r="1.18"/><circle class="st" cx="237.80" cy="45.51" r="1.18"/><circle class="st" cx="241.40" cy="45.51" r="1.18"/>
<circle class="st" cx="234.20" cy="56.53" r="1.18"/><circle class="st" cx="237.80" cy="56.53" r="1.18"/>
<circle class="st" cx="234.20" cy="67.55" r="1.18"/><circle class="st" cx="237.80" cy="67.55" r="1.18"/><circle class="st" cx="241.40" cy="67.55" r="1.18"/>
<circle class="st" cx="234.20" cy="78.56" r="1.18"/>
<circle class="st" cx="234.20" cy="100.60" r="1.18"/>
<circle class="st" cx="234.20" cy="111.62" r="1.18"/><circle class="st" cx="237.80" cy="111.62" r="1.18"/>
<circle class="st" cx="234.20" cy="122.64" r="1.18"/><circle class="st" cx="237.80" cy="122.64" r="1.18"/><circle class="st" cx="241.40" cy="122.64" r="1.18"/>
<circle class="st" cx="234.20" cy="133.65" r="1.18"/><circle class="st" cx="237.80" cy="133.65" r="1.18"/><circle class="st" cx="241.40" cy="133.65" r="1.18"/>
<circle class="st" cx="234.20" cy="155.69" r="1.18"/><circle class="st" cx="237.80" cy="155.69" r="1.18"/><circle class="st" cx="241.40" cy="155.69" r="1.18"/>
<circle class="st" cx="234.20" cy="166.71" r="1.18"/><circle class="st" cx="237.80" cy="166.71" r="1.18"/><circle class="st" cx="241.40" cy="166.71" r="1.18"/>
<circle class="st" cx="234.20" cy="177.72" r="1.18"/><circle class="st" cx="237.80" cy="177.72" r="1.18"/><circle class="st" cx="241.40" cy="177.72" r="1.18"/>
</g>
<defs><linearGradient id="vga" x1="0" y1="0" x2="0" y2="1"><stop offset="0.0000" stop-color="#fde725"/><stop offset="0.0312" stop-color="#ece51b"/><stop offset="0.0625" stop-color="#d8e219"/><stop offset="0.0938" stop-color="#c2df23"/><stop offset="0.1250" stop-color="#addc30"/><stop offset="0.1562" stop-color="#98d83e"/><stop offset="0.1875" stop-color="#84d44b"/><stop offset="0.2188" stop-color="#70cf57"/><stop offset="0.2500" stop-color="#5ec962"/><stop offset="0.2812" stop-color="#4ec36b"/><stop offset="0.3125" stop-color="#3fbc73"/><stop offset="0.3438" stop-color="#32b67a"/><stop offset="0.3750" stop-color="#28ae80"/><stop offset="0.4062" stop-color="#22a785"/><stop offset="0.4375" stop-color="#1fa088"/><stop offset="0.4688" stop-color="#1f988b"/><stop offset="0.5000" stop-color="#21918c"/><stop offset="0.5312" stop-color="#23898e"/><stop offset="0.5625" stop-color="#26828e"/><stop offset="0.5938" stop-color="#297a8e"/><stop offset="0.6250" stop-color="#2c728e"/><stop offset="0.6562" stop-color="#2f6b8e"/><stop offset="0.6875" stop-color="#33638d"/><stop offset="0.7188" stop-color="#375b8d"/><stop offset="0.7500" stop-color="#3b528b"/><stop offset="0.7812" stop-color="#3e4989"/><stop offset="0.8125" stop-color="#424086"/><stop offset="0.8438" stop-color="#453781"/><stop offset="0.8750" stop-color="#472d7b"/><stop offset="0.9062" stop-color="#482374"/><stop offset="0.9375" stop-color="#48186a"/><stop offset="0.9688" stop-color="#470d60"/><stop offset="1.0000" stop-color="#440154"/></linearGradient></defs>
<rect x="244.50" y="6.70" width="9.60" height="187.30" fill="url(#vga)"/>
<g font-size="3.00">
<line class="tk" x1="254.10" y1="6.70" x2="255.50" y2="6.70"/><text class="cb" x="256.30" y="8.09">1.0</text>
<line class="tk" x1="254.10" y1="29.13" x2="255.50" y2="29.13"/><text class="cb" x="256.30" y="30.52">0.8</text>
<line class="tk" x1="254.10" y1="51.56" x2="255.50" y2="51.56"/><text class="cb" x="256.30" y="52.95">0.6</text>
<line class="tk" x1="254.10" y1="73.99" x2="255.50" y2="73.99"/><text class="cb" x="256.30" y="75.38">0.4</text>
<line class="tk" x1="254.10" y1="96.42" x2="255.50" y2="96.42"/><text class="cb" x="256.30" y="97.81">0.2</text>
<line class="tk" x1="254.10" y1="118.86" x2="255.50" y2="118.86"/><text class="cb" x="256.30" y="120.25">0.0</text>
<line class="tk" x1="254.10" y1="141.29" x2="255.50" y2="141.29"/><text class="cb" x="256.30" y="142.68">−0.2</text>
<line class="tk" x1="254.10" y1="163.72" x2="255.50" y2="163.72"/><text class="cb" x="256.30" y="165.11">−0.4</text>
<line class="tk" x1="254.10" y1="186.15" x2="255.50" y2="186.15"/><text class="cb" x="256.30" y="187.54">−0.6</text>
</g>
</g>
<g id="panel-b">
<text class="pl" font-size="8.31" x="279.8" y="11.2">(b)</text>
<g>
<rect x="309.90" y="3.30" width="12.77" height="11.96" fill="#fde725"/><rect x="322.07" y="3.30" width="12.77" height="11.96" fill="#b8de29"/><rect x="334.24" y="3.30" width="12.77" height="11.96" fill="#20928c"/><rect x="346.41" y="3.30" width="12.77" height="11.96" fill="#ece51b"/><rect x="358.58" y="3.30" width="12.77" height="11.96" fill="#2c718e"/><rect x="370.75" y="3.30" width="12.77" height="11.96" fill="#5ec962"/><rect x="382.92" y="3.30" width="12.77" height="11.96" fill="#481b6d"/><rect x="395.09" y="3.30" width="12.77" height="11.96" fill="#482677"/><rect x="407.26" y="3.30" width="12.77" height="11.96" fill="#238a8d"/><rect x="419.44" y="3.30" width="12.77" height="11.96" fill="#26ad81"/><rect x="431.61" y="3.30" width="12.77" height="11.96" fill="#34608d"/><rect x="443.78" y="3.30" width="12.77" height="11.96" fill="#24aa83"/><rect x="455.95" y="3.30" width="12.77" height="11.96" fill="#25ac82"/><rect x="468.12" y="3.30" width="12.77" height="11.96" fill="#31668e"/><rect x="480.29" y="3.30" width="12.77" height="11.96" fill="#93d741"/><rect x="492.46" y="3.30" width="12.77" height="11.96" fill="#52c569"/><rect x="504.63" y="3.30" width="12.17" height="11.96" fill="#20928c"/>
<rect x="309.90" y="14.66" width="12.77" height="11.96" fill="#b8de29"/><rect x="322.07" y="14.66" width="12.77" height="11.96" fill="#fde725"/><rect x="334.24" y="14.66" width="12.77" height="11.96" fill="#26ad81"/><rect x="346.41" y="14.66" width="12.77" height="11.96" fill="#aadc32"/><rect x="358.58" y="14.66" width="12.77" height="11.96" fill="#2c718e"/><rect x="370.75" y="14.66" width="12.77" height="11.96" fill="#3bbb75"/><rect x="382.92" y="14.66" width="12.77" height="11.96" fill="#463480"/><rect x="395.09" y="14.66" width="12.77" height="11.96" fill="#453882"/><rect x="407.26" y="14.66" width="12.77" height="11.96" fill="#238a8d"/><rect x="419.44" y="14.66" width="12.77" height="11.96" fill="#1fa187"/><rect x="431.61" y="14.66" width="12.77" height="11.96" fill="#30698e"/><rect x="443.78" y="14.66" width="12.77" height="11.96" fill="#56c667"/><rect x="455.95" y="14.66" width="12.77" height="11.96" fill="#26ad81"/><rect x="468.12" y="14.66" width="12.77" height="11.96" fill="#365d8d"/><rect x="480.29" y="14.66" width="12.77" height="11.96" fill="#9dd93b"/><rect x="492.46" y="14.66" width="12.77" height="11.96" fill="#77d153"/><rect x="504.63" y="14.66" width="12.17" height="11.96" fill="#1f9f88"/>
<rect x="309.90" y="26.02" width="12.77" height="11.96" fill="#20928c"/><rect x="322.07" y="26.02" width="12.77" height="11.96" fill="#26ad81"/><rect x="334.24" y="26.02" width="12.77" height="11.96" fill="#fde725"/><rect x="346.41" y="26.02" width="12.77" height="11.96" fill="#218f8d"/><rect x="358.58" y="26.02" width="12.77" height="11.96" fill="#228d8d"/><rect x="370.75" y="26.02" width="12.77" height="11.96" fill="#34608d"/><rect x="382.92" y="26.02" width="12.77" height="11.96" fill="#20938c"/><rect x="395.09" y="26.02" width="12.77" height="11.96" fill="#21918c"/><rect x="407.26" y="26.02" width="12.77" height="11.96" fill="#31668e"/><rect x="419.44" y="26.02" width="12.77" height="11.96" fill="#31668e"/><rect x="431.61" y="26.02" width="12.77" height="11.96" fill="#2d718e"/><rect x="443.78" y="26.02" width="12.77" height="11.96" fill="#218f8d"/><rect x="455.95" y="26.02" width="12.77" height="11.96" fill="#2b748e"/><rect x="468.12" y="26.02" width="12.77" height="11.96" fill="#32648e"/><rect x="480.29" y="26.02" width="12.77" height="11.96" fill="#26ad81"/><rect x="492.46" y="26.02" width="12.77" height="11.96" fill="#28ae80"/><rect x="504.63" y="26.02" width="12.17" height="11.96" fill="#1e9c89"/>
<rect x="309.90" y="37.38" width="12.77" height="11.96" fill="#ece51b"/><rect x="322.07" y="37.38" width="12.77" height="11.96" fill="#aadc32"/><rect x="334.24" y="37.38" width="12.77" height="11.96" fill="#218f8d"/><rect x="346.41" y="37.38" width="12.77" height="11.96" fill="#fde725"/><rect x="358.58" y="37.38" width="12.77" height="11.96" fill="#306a8e"/><rect x="370.75" y="37.38" width="12.77" height="11.96" fill="#65cb5e"/><rect x="382.92" y="37.38" width="12.77" height="11.96" fill="#48186a"/><rect x="395.09" y="37.38" width="12.77" height="11.96" fill="#482374"/><rect x="407.26" y="37.38" width="12.77" height="11.96" fill="#228c8d"/><rect x="419.44" y="37.38" width="12.77" height="11.96" fill="#2cb17e"/><rect x="431.61" y="37.38" width="12.77" height="11.96" fill="#355e8d"/><rect x="443.78" y="37.38" width="12.77" height="11.96" fill="#1fa187"/><rect x="455.95" y="37.38" width="12.77" height="11.96" fill="#20a386"/><rect x="468.12" y="37.38" width="12.77" height="11.96" fill="#34618d"/><rect x="480.29" y="37.38" width="12.77" height="11.96" fill="#7cd250"/><rect x="492.46" y="37.38" width="12.77" height="11.96" fill="#40bd72"/><rect x="504.63" y="37.38" width="12.17" height="11.96" fill="#20928c"/>
<rect x="309.90" y="48.74" width="12.77" height="11.96" fill="#2c718e"/><rect x="322.07" y="48.74" width="12.77" height="11.96" fill="#2c718e"/><rect x="334.24" y="48.74" width="12.77" height="11.96" fill="#228d8d"/><rect x="346.41" y="48.74" width="12.77" height="11.96" fill="#306a8e"/><rect x="358.58" y="48.74" width="12.77" height="11.96" fill="#fde725"/><rect x="370.75" y="48.74" width="12.77" height="11.96" fill="#39558c"/><rect x="382.92" y="48.74" width="12.77" height="11.96" fill="#1fa187"/><rect x="395.09" y="48.74" width="12.77" height="11.96" fill="#2cb17e"/><rect x="407.26" y="48.74" width="12.77" height="11.96" fill="#3e4a89"/><rect x="419.44" y="48.74" width="12.77" height="11.96" fill="#423f85"/><rect x="431.61" y="48.74" width="12.77" height="11.96" fill="#31668e"/><rect x="443.78" y="48.74" width="12.77" height="11.96" fill="#24868e"/><rect x="455.95" y="48.74" width="12.77" height="11.96" fill="#1f948c"/><rect x="468.12" y="48.74" width="12.77" height="11.96" fill="#218f8d"/><rect x="480.29" y="48.74" width="12.77" height="11.96" fill="#238a8d"/><rect x="492.46" y="48.74" width="12.77" height="11.96" fill="#1f978b"/><rect x="504.63" y="48.74" width="12.17" height="11.96" fill="#32648e"/>
<rect x="309.90" y="60.09" width="12.77" height="11.96" fill="#5ec962"/><rect x="322.07" y="60.09" width="12.77" height="11.96" fill="#3bbb75"/><rect x="334.24" y="60.09" width="12.77" height="11.96" fill="#34608d"/><rect x="346.41" y="60.09" width="12.77" height="11.96" fill="#65cb5e"/><rect x="358.58" y="60.09" width="12.77" height="11.96" fill="#39558c"/><rect x="370.75" y="60.09" width="12.77" height="11.96" fill="#fde725"/><rect x="382.92" y="60.09" width="12.77" height="11.96" fill="#482576"/><rect x="395.09" y="60.09" width="12.77" height="11.96" fill="#440154"/><rect x="407.26" y="60.09" width="12.77" height="11.96" fill="#7fd34e"/><rect x="419.44" y="60.09" width="12.77" height="11.96" fill="#bade28"/><rect x="431.61" y="60.09" width="12.77" height="11.96" fill="#1e9d89"/><rect x="443.78" y="60.09" width="12.77" height="11.96" fill="#3bbb75"/><rect x="455.95" y="60.09" width="12.77" height="11.96" fill="#25848e"/><rect x="468.12" y="60.09" width="12.77" height="11.96" fill="#472a7a"/><rect x="480.29" y="60.09" width="12.77" height="11.96" fill="#21a685"/><rect x="492.46" y="60.09" width="12.77" height="11.96" fill="#1f948c"/><rect x="504.63" y="60.09" width="12.17" height="11.96" fill="#1fa088"/>
<rect x="309.90" y="71.45" width="12.77" height="11.96" fill="#481b6d"/><rect x="322.07" y="71.45" width="12.77" height="11.96" fill="#463480"/><rect x="334.24" y="71.45" width="12.77" height="11.96" fill="#20938c"/><rect x="346.41" y="71.45" width="12.77" height="11.96" fill="#48186a"/><rect x="358.58" y="71.45" width="12.77" height="11.96" fill="#1fa187"/><rect x="370.75" y="71.45" width="12.77" height="11.96" fill="#482576"/><rect x="382.92" y="71.45" width="12.77" height="11.96" fill="#fde725"/><rect x="395.09" y="71.45" width="12.77" height="11.96" fill="#aadc32"/><rect x="407.26" y="71.45" width="12.77" height="11.96" fill="#31668e"/><rect x="419.44" y="71.45" width="12.77" height="11.96" fill="#3c4f8a"/><rect x="431.61" y="71.45" width="12.77" height="11.96" fill="#1f998a"/><rect x="443.78" y="71.45" width="12.77" height="11.96" fill="#2e6d8e"/><rect x="455.95" y="71.45" width="12.77" height="11.96" fill="#2b748e"/><rect x="468.12" y="71.45" width="12.77" height="11.96" fill="#20938c"/><rect x="480.29" y="71.45" width="12.77" height="11.96" fill="#375b8d"/><rect x="492.46" y="71.45" width="12.77" height="11.96" fill="#2d718e"/><rect x="504.63" y="71.45" width="12.17" height="11.96" fill="#2e6f8e"/>
<rect x="309.90" y="82.81" width="12.77" height="11.96" fill="#482677"/><rect x="322.07" y="82.81" width="12.77" height="11.96" fill="#453882"/><rect x="334.24" y="82.81" width="12.77" height="11.96" fill="#21918c"/><rect x="346.41" y="82.81" width="12.77" height="11.96" fill="#482374"/><rect x="358.58" y="82.81" width="12.77" height="11.96" fill="#2cb17e"/><rect x="370.75" y="82.81" width="12.77" height="11.96" fill="#440154"/><rect x="382.92" y="82.81" width="12.77" height="11.96" fill="#aadc32"/><rect x="395.09" y="82.81" width="12.77" height="11.96" fill="#fde725"/><rect x="407.26" y="82.81" width="12.77" height="11.96" fill="#443b84"/><rect x="419.44" y="82.81" width="12.77" height="11.96" fill="#482173"/><rect x="431.61" y="82.81" width="12.77" height="11.96" fill="#2a778e"/><rect x="443.78" y="82.81" width="12.77" height="11.96" fill="#34608d"/><rect x="455.95" y="82.81" width="12.77" height="11.96" fill="#26818e"/><rect x="468.12" y="82.81" width="12.77" height="11.96" fill="#28ae80"/><rect x="480.29" y="82.81" width="12.77" height="11.96" fill="#34608d"/><rect x="492.46" y="82.81" width="12.77" height="11.96" fill="#2c738e"/><rect x="504.63" y="82.81" width="12.17" height="11.96" fill="#38598c"/>
<rect x="309.90" y="94.17" width="12.77" height="11.96" fill="#238a8d"/><rect x="322.07" y="94.17" width="12.77" height="11.96" fill="#238a8d"/><rect x="334.24" y="94.17" width="12.77" height="11.96" fill="#31668e"/><rect x="346.41" y="94.17" width="12.77" height="11.96" fill="#228c8d"/><rect x="358.58" y="94.17" width="12.77" height="11.96" fill="#3e4a89"/><rect x="370.75" y="94.17" width="12.77" height="11.96" fill="#7fd34e"/><rect x="382.92" y="94.17" width="12.77" height="11.96" fill="#31668e"/><rect x="395.09" y="94.17" width="12.77" height="11.96" fill="#443b84"/><rect x="407.26" y="94.17" width="12.77" height="11.96" fill="#fde725"/><rect x="419.44" y="94.17" width="12.77" height="11.96" fill="#cae11f"/><rect x="431.61" y="94.17" width="12.77" height="11.96" fill="#a2da37"/><rect x="443.78" y="94.17" width="12.77" height="11.96" fill="#23a983"/><rect x="455.95" y="94.17" width="12.77" height="11.96" fill="#365d8d"/><rect x="468.12" y="94.17" width="12.77" height="11.96" fill="#470e61"/><rect x="480.29" y="94.17" width="12.77" height="11.96" fill="#2a768e"/><rect x="492.46" y="94.17" width="12.77" height="11.96" fill="#31678e"/><rect x="504.63" y="94.17" width="12.17" height="11.96" fill="#24aa83"/>
<rect x="309.90" y="105.53" width="12.77" height="11.96" fill="#26ad81"/><rect x="322.07" y="105.53" width="12.77" height="11.96" fill="#1fa187"/><rect x="334.24" y="105.53" width="12.77" height="11.96" fill="#31668e"/><rect x="346.41" y="105.53" width="12.77" height="11.96" fill="#2cb17e"/><rect x="358.58" y="105.53" width="12.77" height="11.96" fill="#423f85"/><rect x="370.75" y="105.53" width="12.77" height="11.96" fill="#bade28"/><rect x="382.92" y="105.53" width="12.77" height="11.96" fill="#3c4f8a"/><rect x="395.09" y="105.53" width="12.77" height="11.96" fill="#482173"/><rect x="407.26" y="105.53" width="12.77" height="11.96" fill="#cae11f"/><rect x="419.44" y="105.53" width="12.77" height="11.96" fill="#fde725"/><rect x="431.61" y="105.53" width="12.77" height="11.96" fill="#58c765"/><rect x="443.78" y="105.53" width="12.77" height="11.96" fill="#25ac82"/><rect x="455.95" y="105.53" width="12.77" height="11.96" fill="#30698e"/><rect x="468.12" y="105.53" width="12.77" height="11.96" fill="#471063"/><rect x="480.29" y="105.53" width="12.77" height="11.96" fill="#218f8d"/><rect x="492.46" y="105.53" width="12.77" height="11.96" fill="#287c8e"/><rect x="504.63" y="105.53" width="12.17" height="11.96" fill="#26ad81"/>
<rect x="309.90" y="116.89" width="12.77" height="11.96" fill="#34608d"/><rect x="322.07" y="116.89" width="12.77" height="11.96" fill="#30698e"/><rect x="334.24" y="116.89" width="12.77" height="11.96" fill="#2d718e"/><rect x="346.41" y="116.89" width="12.77" height="11.96" fill="#355e8d"/><rect x="358.58" y="116.89" width="12.77" height="11.96" fill="#31668e"/><rect x="370.75" y="116.89" width="12.77" height="11.96" fill="#1e9d89"/><rect x="382.92" y="116.89" width="12.77" height="11.96" fill="#1f998a"/><rect x="395.09" y="116.89" width="12.77" height="11.96" fill="#2a778e"/><rect x="407.26" y="116.89" width="12.77" height="11.96" fill="#a2da37"/><rect x="419.44" y="116.89" width="12.77" height="11.96" fill="#58c765"/><rect x="431.61" y="116.89" width="12.77" height="11.96" fill="#fde725"/><rect x="443.78" y="116.89" width="12.77" height="11.96" fill="#1f9a8a"/><rect x="455.95" y="116.89" width="12.77" height="11.96" fill="#34608d"/><rect x="468.12" y="116.89" width="12.77" height="11.96" fill="#423f85"/><rect x="480.29" y="116.89" width="12.77" height="11.96" fill="#34618d"/><rect x="492.46" y="116.89" width="12.77" height="11.96" fill="#39558c"/><rect x="504.63" y="116.89" width="12.17" height="11.96" fill="#1fa187"/>
<rect x="309.90" y="128.25" width="12.77" height="11.96" fill="#24aa83"/><rect x="322.07" y="128.25" width="12.77" height="11.96" fill="#56c667"/><rect x="334.24" y="128.25" width="12.77" height="11.96" fill="#218f8d"/><rect x="346.41" y="128.25" width="12.77" height="11.96" fill="#1fa187"/><rect x="358.58" y="128.25" width="12.77" height="11.96" fill="#24868e"/><rect x="370.75" y="128.25" width="12.77" height="11.96" fill="#3bbb75"/><rect x="382.92" y="128.25" width="12.77" height="11.96" fill="#2e6d8e"/><rect x="395.09" y="128.25" width="12.77" height="11.96" fill="#34608d"/><rect x="407.26" y="128.25" width="12.77" height="11.96" fill="#23a983"/><rect x="419.44" y="128.25" width="12.77" height="11.96" fill="#25ac82"/><rect x="431.61" y="128.25" width="12.77" height="11.96" fill="#1f9a8a"/><rect x="443.78" y="128.25" width="12.77" height="11.96" fill="#fde725"/><rect x="455.95" y="128.25" width="12.77" height="11.96" fill="#52c569"/><rect x="468.12" y="128.25" width="12.77" height="11.96" fill="#2e6d8e"/><rect x="480.29" y="128.25" width="12.77" height="11.96" fill="#4cc26c"/><rect x="492.46" y="128.25" width="12.77" height="11.96" fill="#65cb5e"/><rect x="504.63" y="128.25" width="12.17" height="11.96" fill="#228d8d"/>
<rect x="309.90" y="139.61" width="12.77" height="11.96" fill="#25ac82"/><rect x="322.07" y="139.61" width="12.77" height="11.96" fill="#26ad81"/><rect x="334.24" y="139.61" width="12.77" height="11.96" fill="#2b748e"/><rect x="346.41" y="139.61" width="12.77" height="11.96" fill="#20a386"/><rect x="358.58" y="139.61" width="12.77" height="11.96" fill="#1f948c"/><rect x="370.75" y="139.61" width="12.77" height="11.96" fill="#25848e"/><rect x="382.92" y="139.61" width="12.77" height="11.96" fill="#2b748e"/><rect x="395.09" y="139.61" width="12.77" height="11.96" fill="#26818e"/><rect x="407.26" y="139.61" width="12.77" height="11.96" fill="#365d8d"/><rect x="419.44" y="139.61" width="12.77" height="11.96" fill="#30698e"/><rect x="431.61" y="139.61" width="12.77" height="11.96" fill="#34608d"/><rect x="443.78" y="139.61" width="12.77" height="11.96" fill="#52c569"/><rect x="455.95" y="139.61" width="12.77" height="11.96" fill="#fde725"/><rect x="468.12" y="139.61" width="12.77" height="11.96" fill="#75d054"/><rect x="480.29" y="139.61" width="12.77" height="11.96" fill="#5cc863"/><rect x="492.46" y="139.61" width="12.77" height="11.96" fill="#7fd34e"/><rect x="504.63" y="139.61" width="12.17" height="11.96" fill="#38598c"/>
<rect x="309.90" y="150.96" width="12.77" height="11.96" fill="#31668e"/><rect x="322.07" y="150.96" width="12.77" height="11.96" fill="#365d8d"/><rect x="334.24" y="150.96" width="12.77" height="11.96" fill="#32648e"/><rect x="346.41" y="150.96" width="12.77" height="11.96" fill="#34618d"/><rect x="358.58" y="150.96" width="12.77" height="11.96" fill="#218f8d"/><rect x="370.75" y="150.96" width="12.77" height="11.96" fill="#472a7a"/><rect x="382.92" y="150.96" width="12.77" height="11.96" fill="#20938c"/><rect x="395.09" y="150.96" width="12.77" height="11.96" fill="#28ae80"/><rect x="407.26" y="150.96" width="12.77" height="11.96" fill="#470e61"/><rect x="419.44" y="150.96" width="12.77" height="11.96" fill="#471063"/><rect x="431.61" y="150.96" width="12.77" height="11.96" fill="#423f85"/><rect x="443.78" y="150.96" width="12.77" height="11.96" fill="#2e6d8e"/><rect x="455.95" y="150.96" width="12.77" height="11.96" fill="#75d054"/><rect x="468.12" y="150.96" width="12.77" height="11.96" fill="#fde725"/><rect x="480.29" y="150.96" width="12.77" height="11.96" fill="#287d8e"/><rect x="492.46" y="150.96" width="12.77" height="11.96" fill="#238a8d"/><rect x="504.63" y="150.96" width="12.17" height="11.96" fill="#46307e"/>
<rect x="309.90" y="162.32" width="12.77" height="11.96" fill="#93d741"/><rect x="322.07" y="162.32" width="12.77" height="11.96" fill="#9dd93b"/><rect x="334.24" y="162.32" width="12.77" height="11.96" fill="#26ad81"/><rect x="346.41" y="162.32" width="12.77" height="11.96" fill="#7cd250"/><rect x="358.58" y="162.32" width="12.77" height="11.96" fill="#238a8d"/><rect x="370.75" y="162.32" width="12.77" height="11.96" fill="#21a685"/><rect x="382.92" y="162.32" width="12.77" height="11.96" fill="#375b8d"/><rect x="395.09" y="162.32" width="12.77" height="11.96" fill="#34608d"/><rect x="407.26" y="162.32" width="12.77" height="11.96" fill="#2a768e"/><rect x="419.44" y="162.32" width="12.77" height="11.96" fill="#218f8d"/><rect x="431.61" y="162.32" width="12.77" height="11.96" fill="#34618d"/><rect x="443.78" y="162.32" width="12.77" height="11.96" fill="#4cc26c"/><rect x="455.95" y="162.32" width="12.77" height="11.96" fill="#5cc863"/><rect x="468.12" y="162.32" width="12.77" height="11.96" fill="#287d8e"/><rect x="480.29" y="162.32" width="12.77" height="11.96" fill="#fde725"/><rect x="492.46" y="162.32" width="12.77" height="11.96" fill="#dfe318"/><rect x="504.63" y="162.32" width="12.17" height="11.96" fill="#228c8d"/>
<rect x="309.90" y="173.68" width="12.77" height="11.96" fill="#52c569"/><rect x="322.07" y="173.68" width="12.77" height="11.96" fill="#77d153"/><rect x="334.24" y="173.68" width="12.77" height="11.96" fill="#28ae80"/><rect x="346.41" y="173.68" width="12.77" height="11.96" fill="#40bd72"/><rect x="358.58" y="173.68" width="12.77" height="11.96" fill="#1f978b"/><rect x="370.75" y="173.68" width="12.77" height="11.96" fill="#1f948c"/><rect x="382.92" y="173.68" width="12.77" height="11.96" fill="#2d718e"/><rect x="395.09" y="173.68" width="12.77" height="11.96" fill="#2c738e"/><rect x="407.26" y="173.68" width="12.77" height="11.96" fill="#31678e"/><rect x="419.44" y="173.68" width="12.77" height="11.96" fill="#287c8e"/><rect x="431.61" y="173.68" width="12.77" height="11.96" fill="#39558c"/><rect x="443.78" y="173.68" width="12.77" height="11.96" fill="#65cb5e"/><rect x="455.95" y="173.68" width="12.77" height="11.96" fill="#7fd34e"/><rect x="468.12" y="173.68" width="12.77" height="11.96" fill="#238a8d"/><rect x="480.29" y="173.68" width="12.77" height="11.96" fill="#dfe318"/><rect x="492.46" y="173.68" width="12.77" height="11.96" fill="#fde725"/><rect x="504.63" y="173.68" width="12.17" height="11.96" fill="#26818e"/>
<rect x="309.90" y="185.04" width="12.77" height="11.36" fill="#20928c"/><rect x="322.07" y="185.04" width="12.77" height="11.36" fill="#1f9f88"/><rect x="334.24" y="185.04" width="12.77" height="11.36" fill="#1e9c89"/><rect x="346.41" y="185.04" width="12.77" height="11.36" fill="#20928c"/><rect x="358.58" y="185.04" width="12.77" height="11.36" fill="#32648e"/><rect x="370.75" y="185.04" width="12.77" height="11.36" fill="#1fa088"/><rect x="382.92" y="185.04" width="12.77" height="11.36" fill="#2e6f8e"/><rect x="395.09" y="185.04" width="12.77" height="11.36" fill="#38598c"/><rect x="407.26" y="185.04" width="12.77" height="11.36" fill="#24aa83"/><rect x="419.44" y="185.04" width="12.77" height="11.36" fill="#26ad81"/><rect x="431.61" y="185.04" width="12.77" height="11.36" fill="#1fa187"/><rect x="443.78" y="185.04" width="12.77" height="11.36" fill="#228d8d"/><rect x="455.95" y="185.04" width="12.77" height="11.36" fill="#38598c"/><rect x="468.12" y="185.04" width="12.77" height="11.36" fill="#46307e"/><rect x="480.29" y="185.04" width="12.77" height="11.36" fill="#228c8d"/><rect x="492.46" y="185.04" width="12.77" height="11.36" fill="#26818e"/><rect x="504.63" y="185.04" width="12.17" height="11.36" fill="#fde725"/>
</g>
<g font-size="4.20">
<text class="an d" x="315.99" y="9.97">1.00</text><text class="an d" x="328.16" y="9.97">0.82</text><text class="an w" x="340.33" y="9.97">0.18</text><text class="an d" x="352.50" y="9.97">0.95</text><text class="an w" x="364.67" y="9.97">-0.04</text><text class="an d" x="376.84" y="9.97">0.59</text><text class="an w" x="389.01" y="9.97">-0.54</text><text class="an w" x="401.18" y="9.97">-0.48</text><text class="an w" x="413.35" y="9.97">0.13</text><text class="an w" x="425.52" y="9.97">0.37</text><text class="an w" x="437.69" y="9.97">-0.16</text><text class="an w" x="449.86" y="9.97">0.35</text><text class="an w" x="462.03" y="9.97">0.36</text><text class="an w" x="474.20" y="9.97">-0.12</text><text class="an d" x="486.37" y="9.97">0.73</text><text class="an d" x="498.54" y="9.97">0.55</text><text class="an w" x="510.71" y="9.97">0.18</text>
<text class="an d" x="315.99" y="21.33">0.82</text><text class="an d" x="328.16" y="21.33">1.00</text><text class="an w" x="340.33" y="21.33">0.37</text><text class="an d" x="352.50" y="21.33">0.79</text><text class="an w" x="364.67" y="21.33">-0.04</text><text class="an w" x="376.84" y="21.33">0.47</text><text class="an w" x="389.01" y="21.33">-0.41</text><text class="an w" x="401.18" y="21.33">-0.39</text><text class="an w" x="413.35" y="21.33">0.13</text><text class="an w" x="425.52" y="21.33">0.29</text><text class="an w" x="437.69" y="21.33">-0.10</text><text class="an d" x="449.86" y="21.33">0.56</text><text class="an w" x="462.03" y="21.33">0.37</text><text class="an w" x="474.20" y="21.33">-0.18</text><text class="an d" x="486.37" y="21.33">0.76</text><text class="an d" x="498.54" y="21.33">0.66</text><text class="an w" x="510.71" y="21.33">0.27</text>
<text class="an w" x="315.99" y="32.68">0.18</text><text class="an w" x="328.16" y="32.68">0.37</text><text class="an d" x="340.33" y="32.68">1.00</text><text class="an w" x="352.50" y="32.68">0.16</text><text class="an w" x="364.67" y="32.68">0.15</text><text class="an w" x="376.84" y="32.68">-0.16</text><text class="an w" x="389.01" y="32.68">0.19</text><text class="an w" x="401.18" y="32.68">0.17</text><text class="an w" x="413.35" y="32.68">-0.12</text><text class="an w" x="425.52" y="32.68">-0.12</text><text class="an w" x="437.69" y="32.68">-0.05</text><text class="an w" x="449.86" y="32.68">0.16</text><text class="an w" x="462.03" y="32.68">-0.02</text><text class="an w" x="474.20" y="32.68">-0.13</text><text class="an w" x="486.37" y="32.68">0.37</text><text class="an w" x="498.54" y="32.68">0.38</text><text class="an w" x="510.71" y="32.68">0.25</text>
<text class="an d" x="315.99" y="44.04">0.95</text><text class="an d" x="328.16" y="44.04">0.79</text><text class="an w" x="340.33" y="44.04">0.16</text><text class="an d" x="352.50" y="44.04">1.00</text><text class="an w" x="364.67" y="44.04">-0.09</text><text class="an d" x="376.84" y="44.04">0.61</text><text class="an w" x="389.01" y="44.04">-0.55</text><text class="an w" x="401.18" y="44.04">-0.50</text><text class="an w" x="413.35" y="44.04">0.14</text><text class="an w" x="425.52" y="44.04">0.40</text><text class="an w" x="437.69" y="44.04">-0.17</text><text class="an w" x="449.86" y="44.04">0.29</text><text class="an w" x="462.03" y="44.04">0.30</text><text class="an w" x="474.20" y="44.04">-0.15</text><text class="an d" x="486.37" y="44.04">0.67</text><text class="an w" x="498.54" y="44.04">0.49</text><text class="an w" x="510.71" y="44.04">0.18</text>
<text class="an w" x="315.99" y="55.40">-0.04</text><text class="an w" x="328.16" y="55.40">-0.04</text><text class="an w" x="340.33" y="55.40">0.15</text><text class="an w" x="352.50" y="55.40">-0.09</text><text class="an d" x="364.67" y="55.40">1.00</text><text class="an w" x="376.84" y="55.40">-0.22</text><text class="an w" x="389.01" y="55.40">0.29</text><text class="an w" x="401.18" y="55.40">0.40</text><text class="an w" x="413.35" y="55.40">-0.29</text><text class="an w" x="425.52" y="55.40">-0.35</text><text class="an w" x="437.69" y="55.40">-0.12</text><text class="an w" x="449.86" y="55.40">0.10</text><text class="an w" x="462.03" y="55.40">0.20</text><text class="an w" x="474.20" y="55.40">0.16</text><text class="an w" x="486.37" y="55.40">0.13</text><text class="an w" x="498.54" y="55.40">0.22</text><text class="an w" x="510.71" y="55.40">-0.13</text>
<text class="an d" x="315.99" y="66.76">0.59</text><text class="an w" x="328.16" y="66.76">0.47</text><text class="an w" x="340.33" y="66.76">-0.16</text><text class="an d" x="352.50" y="66.76">0.61</text><text class="an w" x="364.67" y="66.76">-0.22</text><text class="an d" x="376.84" y="66.76">1.00</text><text class="an w" x="389.01" y="66.76">-0.49</text><text class="an w" x="401.18" y="66.76">-0.66</text><text class="an d" x="413.35" y="66.76">0.68</text><text class="an d" x="425.52" y="66.76">0.83</text><text class="an w" x="437.69" y="66.76">0.26</text><text class="an w" x="449.86" y="66.76">0.47</text><text class="an w" x="462.03" y="66.76">0.09</text><text class="an w" x="474.20" y="66.76">-0.46</text><text class="an w" x="486.37" y="66.76">0.32</text><text class="an w" x="498.54" y="66.76">0.20</text><text class="an w" x="510.71" y="66.76">0.28</text>
<text class="an w" x="315.99" y="78.12">-0.54</text><text class="an w" x="328.16" y="78.12">-0.41</text><text class="an w" x="340.33" y="78.12">0.19</text><text class="an w" x="352.50" y="78.12">-0.55</text><text class="an w" x="364.67" y="78.12">0.29</text><text class="an w" x="376.84" y="78.12">-0.49</text><text class="an d" x="389.01" y="78.12">1.00</text><text class="an d" x="401.18" y="78.12">0.79</text><text class="an w" x="413.35" y="78.12">-0.12</text><text class="an w" x="425.52" y="78.12">-0.26</text><text class="an w" x="437.69" y="78.12">0.23</text><text class="an w" x="449.86" y="78.12">-0.07</text><text class="an w" x="462.03" y="78.12">-0.02</text><text class="an w" x="474.20" y="78.12">0.19</text><text class="an w" x="486.37" y="78.12">-0.19</text><text class="an w" x="498.54" y="78.12">-0.05</text><text class="an w" x="510.71" y="78.12">-0.06</text>
<text class="an w" x="315.99" y="89.48">-0.48</text><text class="an w" x="328.16" y="89.48">-0.39</text><text class="an w" x="340.33" y="89.48">0.17</text><text class="an w" x="352.50" y="89.48">-0.50</text><text class="an w" x="364.67" y="89.48">0.40</text><text class="an w" x="376.84" y="89.48">-0.66</text><text class="an d" x="389.01" y="89.48">0.79</text><text class="an d" x="401.18" y="89.48">1.00</text><text class="an w" x="413.35" y="89.48">-0.37</text><text class="an w" x="425.52" y="89.48">-0.51</text><text class="an w" x="437.69" y="89.48">0.00</text><text class="an w" x="449.86" y="89.48">-0.16</text><text class="an w" x="462.03" y="89.48">0.06</text><text class="an w" x="474.20" y="89.48">0.38</text><text class="an w" x="486.37" y="89.48">-0.16</text><text class="an w" x="498.54" y="89.48">-0.03</text><text class="an w" x="510.71" y="89.48">-0.20</text>
<text class="an w" x="315.99" y="100.84">0.13</text><text class="an w" x="328.16" y="100.84">0.13</text><text class="an w" x="340.33" y="100.84">-0.12</text><text class="an w" x="352.50" y="100.84">0.14</text><text class="an w" x="364.67" y="100.84">-0.29</text><text class="an d" x="376.84" y="100.84">0.68</text><text class="an w" x="389.01" y="100.84">-0.12</text><text class="an w" x="401.18" y="100.84">-0.37</text><text class="an d" x="413.35" y="100.84">1.00</text><text class="an d" x="425.52" y="100.84">0.87</text><text class="an d" x="437.69" y="100.84">0.77</text><text class="an w" x="449.86" y="100.84">0.34</text><text class="an w" x="462.03" y="100.84">-0.18</text><text class="an w" x="474.20" y="100.84">-0.60</text><text class="an w" x="486.37" y="100.84">-0.01</text><text class="an w" x="498.54" y="100.84">-0.11</text><text class="an w" x="510.71" y="100.84">0.35</text>
<text class="an w" x="315.99" y="112.20">0.37</text><text class="an w" x="328.16" y="112.20">0.29</text><text class="an w" x="340.33" y="112.20">-0.12</text><text class="an w" x="352.50" y="112.20">0.40</text><text class="an w" x="364.67" y="112.20">-0.35</text><text class="an d" x="376.84" y="112.20">0.83</text><text class="an w" x="389.01" y="112.20">-0.26</text><text class="an w" x="401.18" y="112.20">-0.51</text><text class="an d" x="413.35" y="112.20">0.87</text><text class="an d" x="425.52" y="112.20">1.00</text><text class="an d" x="437.69" y="112.20">0.57</text><text class="an w" x="449.86" y="112.20">0.36</text><text class="an w" x="462.03" y="112.20">-0.10</text><text class="an w" x="474.20" y="112.20">-0.59</text><text class="an w" x="486.37" y="112.20">0.16</text><text class="an w" x="498.54" y="112.20">0.03</text><text class="an w" x="510.71" y="112.20">0.37</text>
<text class="an w" x="315.99" y="123.55">-0.16</text><text class="an w" x="328.16" y="123.55">-0.10</text><text class="an w" x="340.33" y="123.55">-0.05</text><text class="an w" x="352.50" y="123.55">-0.17</text><text class="an w" x="364.67" y="123.55">-0.12</text><text class="an w" x="376.84" y="123.55">0.26</text><text class="an w" x="389.01" y="123.55">0.23</text><text class="an w" x="401.18" y="123.55">0.00</text><text class="an d" x="413.35" y="123.55">0.77</text><text class="an d" x="425.52" y="123.55">0.57</text><text class="an d" x="437.69" y="123.55">1.00</text><text class="an w" x="449.86" y="123.55">0.24</text><text class="an w" x="462.03" y="123.55">-0.16</text><text class="an w" x="474.20" y="123.55">-0.35</text><text class="an w" x="486.37" y="123.55">-0.15</text><text class="an w" x="498.54" y="123.55">-0.22</text><text class="an w" x="510.71" y="123.55">0.29</text>
<text class="an w" x="315.99" y="134.91">0.35</text><text class="an d" x="328.16" y="134.91">0.56</text><text class="an w" x="340.33" y="134.91">0.16</text><text class="an w" x="352.50" y="134.91">0.29</text><text class="an w" x="364.67" y="134.91">0.10</text><text class="an w" x="376.84" y="134.91">0.47</text><text class="an w" x="389.01" y="134.91">-0.07</text><text class="an w" x="401.18" y="134.91">-0.16</text><text class="an w" x="413.35" y="134.91">0.34</text><text class="an w" x="425.52" y="134.91">0.36</text><text class="an w" x="437.69" y="134.91">0.24</text><text class="an d" x="449.86" y="134.91">1.00</text><text class="an d" x="462.03" y="134.91">0.55</text><text class="an w" x="474.20" y="134.91">-0.07</text><text class="an d" x="486.37" y="134.91">0.53</text><text class="an d" x="498.54" y="134.91">0.61</text><text class="an w" x="510.71" y="134.91">0.15</text>
<text class="an w" x="315.99" y="146.27">0.36</text><text class="an w" x="328.16" y="146.27">0.37</text><text class="an w" x="340.33" y="146.27">-0.02</text><text class="an w" x="352.50" y="146.27">0.30</text><text class="an w" x="364.67" y="146.27">0.20</text><text class="an w" x="376.84" y="146.27">0.09</text><text class="an w" x="389.01" y="146.27">-0.02</text><text class="an w" x="401.18" y="146.27">0.06</text><text class="an w" x="413.35" y="146.27">-0.18</text><text class="an w" x="425.52" y="146.27">-0.10</text><text class="an w" x="437.69" y="146.27">-0.16</text><text class="an d" x="449.86" y="146.27">0.55</text><text class="an d" x="462.03" y="146.27">1.00</text><text class="an d" x="474.20" y="146.27">0.65</text><text class="an d" x="486.37" y="146.27">0.58</text><text class="an d" x="498.54" y="146.27">0.68</text><text class="an w" x="510.71" y="146.27">-0.20</text>
<text class="an w" x="315.99" y="157.63">-0.12</text><text class="an w" x="328.16" y="157.63">-0.18</text><text class="an w" x="340.33" y="157.63">-0.13</text><text class="an w" x="352.50" y="157.63">-0.15</text><text class="an w" x="364.67" y="157.63">0.16</text><text class="an w" x="376.84" y="157.63">-0.46</text><text class="an w" x="389.01" y="157.63">0.19</text><text class="an w" x="401.18" y="157.63">0.38</text><text class="an w" x="413.35" y="157.63">-0.60</text><text class="an w" x="425.52" y="157.63">-0.59</text><text class="an w" x="437.69" y="157.63">-0.35</text><text class="an w" x="449.86" y="157.63">-0.07</text><text class="an d" x="462.03" y="157.63">0.65</text><text class="an d" x="474.20" y="157.63">1.00</text><text class="an w" x="486.37" y="157.63">0.04</text><text class="an w" x="498.54" y="157.63">0.13</text><text class="an w" x="510.71" y="157.63">-0.43</text>
<text class="an d" x="315.99" y="168.99">0.73</text><text class="an d" x="328.16" y="168.99">0.76</text><text class="an w" x="340.33" y="168.99">0.37</text><text class="an d" x="352.50" y="168.99">0.67</text><text class="an w" x="364.67" y="168.99">0.13</text><text class="an w" x="376.84" y="168.99">0.32</text><text class="an w" x="389.01" y="168.99">-0.19</text><text class="an w" x="401.18" y="168.99">-0.16</text><text class="an w" x="413.35" y="168.99">-0.01</text><text class="an w" x="425.52" y="168.99">0.16</text><text class="an w" x="437.69" y="168.99">-0.15</text><text class="an d" x="449.86" y="168.99">0.53</text><text class="an d" x="462.03" y="168.99">0.58</text><text class="an w" x="474.20" y="168.99">0.04</text><text class="an d" x="486.37" y="168.99">1.00</text><text class="an d" x="498.54" y="168.99">0.92</text><text class="an w" x="510.71" y="168.99">0.14</text>
<text class="an d" x="315.99" y="180.35">0.55</text><text class="an d" x="328.16" y="180.35">0.66</text><text class="an w" x="340.33" y="180.35">0.38</text><text class="an w" x="352.50" y="180.35">0.49</text><text class="an w" x="364.67" y="180.35">0.22</text><text class="an w" x="376.84" y="180.35">0.20</text><text class="an w" x="389.01" y="180.35">-0.05</text><text class="an w" x="401.18" y="180.35">-0.03</text><text class="an w" x="413.35" y="180.35">-0.11</text><text class="an w" x="425.52" y="180.35">0.03</text><text class="an w" x="437.69" y="180.35">-0.22</text><text class="an d" x="449.86" y="180.35">0.61</text><text class="an d" x="462.03" y="180.35">0.68</text><text class="an w" x="474.20" y="180.35">0.13</text><text class="an d" x="486.37" y="180.35">0.92</text><text class="an d" x="498.54" y="180.35">1.00</text><text class="an w" x="510.71" y="180.35">0.06</text>
<text class="an w" x="315.99" y="191.71">0.18</text><text class="an w" x="328.16" y="191.71">0.27</text><text class="an w" x="340.33" y="191.71">0.25</text><text class="an w" x="352.50" y="191.71">0.18</text><text class="an w" x="364.67" y="191.71">-0.13</text><text class="an w" x="376.84" y="191.71">0.28</text><text class="an w" x="389.01" y="191.71">-0.06</text><text class="an w" x="401.18" y="191.71">-0.20</text><text class="an w" x="413.35" y="191.71">0.35</text><text class="an w" x="425.52" y="191.71">0.37</text><text class="an w" x="437.69" y="191.71">0.29</text><text class="an w" x="449.86" y="191.71">0.15</text><text class="an w" x="462.03" y="191.71">-0.20</text><text class="an w" x="474.20" y="191.71">-0.43</text><text class="an w" x="486.37" y="191.71">0.14</text><text class="an w" x="498.54" y="191.71">0.06</text><text class="an d" x="510.71" y="191.71">1.00</text>
</g>
<g font-size="5.23">
<line class="tk" x1="308.30" y1="8.98" x2="309.90" y2="8.98"/><text class="yl" x="307.90" y="10.50">NDVI</text>
<line class="tk" x1="308.30" y1="20.34" x2="309.90" y2="20.34"/><text class="yl" x="307.90" y="21.86">EVI</text>
<line class="tk" x1="308.30" y1="31.70" x2="309.90" y2="31.70"/><text class="yl" x="307.90" y="33.22">NDWI</text>
<line class="tk" x1="308.30" y1="43.06" x2="309.90" y2="43.06"/><text class="yl" x="307.90" y="44.58">kNDVI</text>
<line class="tk" x1="308.30" y1="54.41" x2="309.90" y2="54.41"/><text class="yl" x="307.90" y="55.94">Pdsi</text>
<line class="tk" x1="308.30" y1="65.77" x2="309.90" y2="65.77"/><text class="yl" x="307.90" y="67.30">Pet</text>
<line class="tk" x1="308.30" y1="77.13" x2="309.90" y2="77.13"/><text class="yl" x="307.90" y="78.66">Pr</text>
<line class="tk" x1="308.30" y1="88.49" x2="309.90" y2="88.49"/><text class="yl" x="307.90" y="90.02">Soil</text>
<line class="tk" x1="308.30" y1="99.85" x2="309.90" y2="99.85"/><text class="yl" x="307.90" y="101.38">Tmmn</text>
<line class="tk" x1="308.30" y1="111.21" x2="309.90" y2="111.21"/><text class="yl" x="307.90" y="112.73">Tmmx</text>
<line class="tk" x1="308.30" y1="122.57" x2="309.90" y2="122.57"/><text class="yl" x="307.90" y="124.09">Vap</text>
<line class="tk" x1="308.30" y1="133.93" x2="309.90" y2="133.93"/><text class="yl" x="307.90" y="135.45">SIF</text>
<line class="tk" x1="308.30" y1="145.29" x2="309.90" y2="145.29"/><text class="yl" x="307.90" y="146.81">Gpp</text>
<line class="tk" x1="308.30" y1="156.64" x2="309.90" y2="156.64"/><text class="yl" x="307.90" y="158.17">PsnNet</text>
<line class="tk" x1="308.30" y1="168.00" x2="309.90" y2="168.00"/><text class="yl" x="307.90" y="169.53">Fpar</text>
<line class="tk" x1="308.30" y1="179.36" x2="309.90" y2="179.36"/><text class="yl" x="307.90" y="180.89">Lai</text>
<line class="tk" x1="308.30" y1="190.72" x2="309.90" y2="190.72"/><text class="yl" x="307.90" y="192.25">Yield(kg/ha)</text>
<line class="tk" x1="315.99" y1="196.40" x2="315.99" y2="198.00"/><text class="xl" transform="translate(315.99 204.98) rotate(-45)" y="1.73">NDVI</text>
<line class="tk" x1="328.16" y1="196.40" x2="328.16" y2="198.00"/><text class="xl" transform="translate(328.16 203.44) rotate(-45)" y="1.73">EVI</text>
<line class="tk" x1="340.33" y1="196.40" x2="340.33" y2="198.00"/><text class="xl" transform="translate(340.33 205.39) rotate(-45)" y="1.73">NDWI</text>
<line class="tk" x1="352.50" y1="196.40" x2="352.50" y2="198.00"/><text class="xl" transform="translate(352.50 205.91) rotate(-45)" y="1.73">kNDVI</text>
<line class="tk" x1="364.67" y1="196.40" x2="364.67" y2="198.00"/><text class="xl" transform="translate(364.67 203.55) rotate(-45)" y="1.73">Pdsi</text>
<line class="tk" x1="376.84" y1="196.40" x2="376.84" y2="198.00"/><text class="xl" transform="translate(376.84 202.73) rotate(-45)" y="1.73">Pet</text>
<line class="tk" x1="389.01" y1="196.40" x2="389.01" y2="198.00"/><text class="xl" transform="translate(389.01 202.01) rotate(-45)" y="1.73">Pr</text>
<line class="tk" x1="401.18" y1="196.40" x2="401.18" y2="198.00"/><text class="xl" transform="translate(401.18 203.34) rotate(-45)" y="1.73">Soil</text>
<line class="tk" x1="413.35" y1="196.40" x2="413.35" y2="198.00"/><text class="xl" transform="translate(413.35 205.29) rotate(-45)" y="1.73">Tmmn</text>
<line class="tk" x1="425.52" y1="196.40" x2="425.52" y2="198.00"/><text class="xl" transform="translate(425.52 205.29) rotate(-45)" y="1.73">Tmmx</text>
<line class="tk" x1="437.69" y1="196.40" x2="437.69" y2="198.00"/><text class="xl" transform="translate(437.69 203.44) rotate(-45)" y="1.73">Vap</text>
<line class="tk" x1="449.86" y1="196.40" x2="449.86" y2="198.00"/><text class="xl" transform="translate(449.86 203.03) rotate(-45)" y="1.73">SIF</text>
<line class="tk" x1="462.03" y1="196.40" x2="462.03" y2="198.00"/><text class="xl" transform="translate(462.03 203.55) rotate(-45)" y="1.73">Gpp</text>
<line class="tk" x1="474.20" y1="196.40" x2="474.20" y2="198.00"/><text class="xl" transform="translate(474.20 205.70) rotate(-45)" y="1.73">PsnNet</text>
<line class="tk" x1="486.37" y1="196.40" x2="486.37" y2="198.00"/><text class="xl" transform="translate(486.37 203.75) rotate(-45)" y="1.73">Fpar</text>
<line class="tk" x1="498.54" y1="196.40" x2="498.54" y2="198.00"/><text class="xl" transform="translate(498.54 202.83) rotate(-45)" y="1.73">Lai</text>
<line class="tk" x1="510.71" y1="196.40" x2="510.71" y2="198.00"/><text class="xl" transform="translate(510.71 209.81) rotate(-45)" y="1.73">Yield(kg/ha)</text>
</g>
<g>
<circle class="st" cx="519.50" cy="9.23" r="1.21"/><circle class="st" cx="523.19" cy="9.23" r="1.21"/><circle class="st" cx="526.88" cy="9.23" r="1.21"/>
<circle class="st" cx="519.50" cy="20.59" r="1.21"/><circle class="st" cx="523.19" cy="20.59" r="1.21"/><circle class="st" cx="526.88" cy="20.59" r="1.21"/>
<circle class="st" cx="519.50" cy="31.95" r="1.21"/><circle class="st" cx="523.19" cy="31.95" r="1.21"/><circle class="st" cx="526.88" cy="31.95" r="1.21"/>
<circle class="st" cx="519.50" cy="43.31" r="1.21"/><circle class="st" cx="523.19" cy="43.31" r="1.21"/><circle class="st" cx="526.88" cy="43.31" r="1.21"/>
<circle class="st" cx="519.50" cy="54.66" r="1.21"/><circle class="st" cx="523.19" cy="54.66" r="1.21"/>
<circle class="st" cx="519.50" cy="66.02" r="1.21"/><circle class="st" cx="523.19" cy="66.02" r="1.21"/><circle class="st" cx="526.88" cy="66.02" r="1.21"/>
<circle class="st" cx="519.50" cy="77.38" r="1.21"/>
<circle class="st" cx="519.50" cy="88.74" r="1.21"/><circle class="st" cx="523.19" cy="88.74" r="1.21"/><circle class="st" cx="526.88" cy="88.74" r="1.21"/>
<circle class="st" cx="519.50" cy="100.10" r="1.21"/><circle class="st" cx="523.19" cy="100.10" r="1.21"/><circle class="st" cx="526.88" cy="100.10" r="1.21"/>
<circle class="st" cx="519.50" cy="111.46" r="1.21"/><circle class="st" cx="523.19" cy="111.46" r="1.21"/><circle class="st" cx="526.88" cy="111.46" r="1.21"/>
<circle class="st" cx="519.50" cy="122.82" r="1.21"/><circle class="st" cx="523.19" cy="122.82" r="1.21"/><circle class="st" cx="526.88" cy="122.82" r="1.21"/>
<circle class="st" cx="519.50" cy="134.18" r="1.21"/><circle class="st" cx="523.19" cy="134.18" r="1.21"/><circle class="st" cx="526.88" cy="134.18" r="1.21"/>
<circle class="st" cx="519.50" cy="145.54" r="1.21"/><circle class="st" cx="523.19" cy="145.54" r="1.21"/><circle class="st" cx="526.88" cy="145.54" r="1.21"/>
<circle class="st" cx="519.50" cy="156.89" r="1.21"/><circle class="st" cx="523.19" cy="156.89" r="1.21"/><circle class="st" cx="526.88" cy="156.89" r="1.21"/>
<circle class="st" cx="519.50" cy="168.25" r="1.21"/><circle class="st" cx="523.19" cy="168.25" r="1.21"/><circle class="st" cx="526.88" cy="168.25" r="1.21"/>
<circle class="st" cx="519.50" cy="179.61" r="1.21"/>
</g>
<defs><linearGradient id="vgb" x1="0" y1="0" x2="0" y2="1"><stop offset="0.0000" stop-color="#fde725"/><stop offset="0.0312" stop-color="#ece51b"/><stop offset="0.0625" stop-color="#d8e219"/><stop offset="0.0938" stop-color="#c2df23"/><stop offset="0.1250" stop-color="#addc30"/><stop offset="0.1562" stop-color="#98d83e"/><stop offset="0.1875" stop-color="#84d44b"/><stop offset="0.2188" stop-color="#70cf57"/><stop offset="0.2500" stop-color="#5ec962"/><stop offset="0.2812" stop-color="#4ec36b"/><stop offset="0.3125" stop-color="#3fbc73"/><stop offset="0.3438" stop-color="#32b67a"/><stop offset="0.3750" stop-color="#28ae80"/><stop offset="0.4062" stop-color="#22a785"/><stop offset="0.4375" stop-color="#1fa088"/><stop offset="0.4688" stop-color="#1f988b"/><stop offset="0.5000" stop-color="#21918c"/><stop offset="0.5312" stop-color="#23898e"/><stop offset="0.5625" stop-color="#26828e"/><stop offset="0.5938" stop-color="#297a8e"/><stop offset="0.6250" stop-color="#2c728e"/><stop offset="0.6562" stop-color="#2f6b8e"/><stop offset="0.6875" stop-color="#33638d"/><stop offset="0.7188" stop-color="#375b8d"/><stop offset="0.7500" stop-color="#3b528b"/><stop offset="0.7812" stop-color="#3e4989"/><stop offset="0.8125" stop-color="#424086"/><stop offset="0.8438" stop-color="#453781"/><stop offset="0.8750" stop-color="#472d7b"/><stop offset="0.9062" stop-color="#482374"/><stop offset="0.9375" stop-color="#48186a"/><stop offset="0.9688" stop-color="#470d60"/><stop offset="1.0000" stop-color="#440154"/></linearGradient></defs>
<rect x="530.00" y="3.30" width="10.00" height="193.10" fill="url(#vgb)"/>
<g font-size="3.08">
<line class="tk" x1="540.00" y1="3.30" x2="541.40" y2="3.30"/><text class="cb" x="542.20" y="4.72">1.0</text>
<line class="tk" x1="540.00" y1="26.57" x2="541.40" y2="26.57"/><text class="cb" x="542.20" y="27.98">0.8</text>
<line class="tk" x1="540.00" y1="49.83" x2="541.40" y2="49.83"/><text class="cb" x="542.20" y="51.25">0.6</text>
<line class="tk" x1="540.00" y1="73.10" x2="541.40" y2="73.10"/><text class="cb" x="542.20" y="74.51">0.4</text>
<line class="tk" x1="540.00" y1="96.36" x2="541.40" y2="96.36"/><text class="cb" x="542.20" y="97.78">0.2</text>
<line class="tk" x1="540.00" y1="119.63" x2="541.40" y2="119.63"/><text class="cb" x="542.20" y="121.04">0.0</text>
<line class="tk" x1="540.00" y1="142.89" x2="541.40" y2="142.89"/><text class="cb" x="542.20" y="144.31">−0.2</text>
<line class="tk" x1="540.00" y1="166.16" x2="541.40" y2="166.16"/><text class="cb" x="542.20" y="167.57">−0.4</text>
<line class="tk" x1="540.00" y1="189.42" x2="541.40" y2="189.42"/><text class="cb" x="542.20" y="190.84">−0.6</text>
</g>
</g>
<g id="panel-c">
<text class="pl" font-size="8.41" x="141.2" y="234.4">(c)</text>
<g>
<rect x="170.20" y="226.90" width="12.92" height="12.06" fill="#fde725"/><rect x="182.52" y="226.90" width="12.92" height="12.06" fill="#b2dd2d"/><rect x="194.84" y="226.90" width="12.92" height="12.06" fill="#2c718e"/><rect x="207.15" y="226.90" width="12.92" height="12.06" fill="#f6e620"/><rect x="219.47" y="226.90" width="12.92" height="12.06" fill="#30698e"/><rect x="231.79" y="226.90" width="12.92" height="12.06" fill="#4cc26c"/><rect x="244.11" y="226.90" width="12.92" height="12.06" fill="#460b5e"/><rect x="256.42" y="226.90" width="12.92" height="12.06" fill="#482878"/><rect x="268.74" y="226.90" width="12.92" height="12.06" fill="#2a768e"/><rect x="281.06" y="226.90" width="12.92" height="12.06" fill="#1f978b"/><rect x="293.38" y="226.90" width="12.92" height="12.06" fill="#3e4989"/><rect x="305.69" y="226.90" width="12.92" height="12.06" fill="#1f988b"/><rect x="318.01" y="226.90" width="12.92" height="12.06" fill="#2cb17e"/><rect x="330.33" y="226.90" width="12.92" height="12.06" fill="#26828e"/><rect x="342.65" y="226.90" width="12.92" height="12.06" fill="#84d44b"/><rect x="354.96" y="226.90" width="12.92" height="12.06" fill="#44bf70"/><rect x="367.28" y="226.90" width="12.32" height="12.06" fill="#228d8d"/>
<rect x="170.20" y="238.36" width="12.92" height="12.06" fill="#b2dd2d"/><rect x="182.52" y="238.36" width="12.92" height="12.06" fill="#fde725"/><rect x="194.84" y="238.36" width="12.92" height="12.06" fill="#1f988b"/><rect x="207.15" y="238.36" width="12.92" height="12.06" fill="#9dd93b"/><rect x="219.47" y="238.36" width="12.92" height="12.06" fill="#2d718e"/><rect x="231.79" y="238.36" width="12.92" height="12.06" fill="#22a785"/><rect x="244.11" y="238.36" width="12.92" height="12.06" fill="#472f7d"/><rect x="256.42" y="238.36" width="12.92" height="12.06" fill="#414287"/><rect x="268.74" y="238.36" width="12.92" height="12.06" fill="#2f6c8e"/><rect x="281.06" y="238.36" width="12.92" height="12.06" fill="#26818e"/><rect x="293.38" y="238.36" width="12.92" height="12.06" fill="#3a538b"/><rect x="305.69" y="238.36" width="12.92" height="12.06" fill="#5cc863"/><rect x="318.01" y="238.36" width="12.92" height="12.06" fill="#38b977"/><rect x="330.33" y="238.36" width="12.92" height="12.06" fill="#25838e"/><rect x="342.65" y="238.36" width="12.92" height="12.06" fill="#95d840"/><rect x="354.96" y="238.36" width="12.92" height="12.06" fill="#6ece58"/><rect x="367.28" y="238.36" width="12.32" height="12.06" fill="#1f988b"/>
<rect x="170.20" y="249.83" width="12.92" height="12.06" fill="#2c718e"/><rect x="182.52" y="249.83" width="12.92" height="12.06" fill="#1f988b"/><rect x="194.84" y="249.83" width="12.92" height="12.06" fill="#fde725"/><rect x="207.15" y="249.83" width="12.92" height="12.06" fill="#306a8e"/><rect x="219.47" y="249.83" width="12.92" height="12.06" fill="#1f988b"/><rect x="231.79" y="249.83" width="12.92" height="12.06" fill="#46337f"/><rect x="244.11" y="249.83" width="12.92" height="12.06" fill="#1fa187"/><rect x="256.42" y="249.83" width="12.92" height="12.06" fill="#1fa088"/><rect x="268.74" y="249.83" width="12.92" height="12.06" fill="#423f85"/><rect x="281.06" y="249.83" width="12.92" height="12.06" fill="#453581"/><rect x="293.38" y="249.83" width="12.92" height="12.06" fill="#31678e"/><rect x="305.69" y="249.83" width="12.92" height="12.06" fill="#1f988b"/><rect x="318.01" y="249.83" width="12.92" height="12.06" fill="#228d8d"/><rect x="330.33" y="249.83" width="12.92" height="12.06" fill="#25858e"/><rect x="342.65" y="249.83" width="12.92" height="12.06" fill="#1fa287"/><rect x="354.96" y="249.83" width="12.92" height="12.06" fill="#2cb17e"/><rect x="367.28" y="249.83" width="12.32" height="12.06" fill="#355f8d"/>
<rect x="170.20" y="261.29" width="12.92" height="12.06" fill="#f6e620"/><rect x="182.52" y="261.29" width="12.92" height="12.06" fill="#9dd93b"/><rect x="194.84" y="261.29" width="12.92" height="12.06" fill="#306a8e"/><rect x="207.15" y="261.29" width="12.92" height="12.06" fill="#fde725"/><rect x="219.47" y="261.29" width="12.92" height="12.06" fill="#355e8d"/><rect x="231.79" y="261.29" width="12.92" height="12.06" fill="#60ca60"/><rect x="244.11" y="261.29" width="12.92" height="12.06" fill="#46075a"/><rect x="256.42" y="261.29" width="12.92" height="12.06" fill="#481b6d"/><rect x="268.74" y="261.29" width="12.92" height="12.06" fill="#26818e"/><rect x="281.06" y="261.29" width="12.92" height="12.06" fill="#20a486"/><rect x="293.38" y="261.29" width="12.92" height="12.06" fill="#3b528b"/><rect x="305.69" y="261.29" width="12.92" height="12.06" fill="#20928c"/><rect x="318.01" y="261.29" width="12.92" height="12.06" fill="#21a585"/><rect x="330.33" y="261.29" width="12.92" height="12.06" fill="#29798e"/><rect x="342.65" y="261.29" width="12.92" height="12.06" fill="#67cc5c"/><rect x="354.96" y="261.29" width="12.92" height="12.06" fill="#2cb17e"/><rect x="367.28" y="261.29" width="12.32" height="12.06" fill="#22a785"/>
<rect x="170.20" y="272.76" width="12.92" height="12.06" fill="#30698e"/><rect x="182.52" y="272.76" width="12.92" height="12.06" fill="#2d718e"/><rect x="194.84" y="272.76" width="12.92" height="12.06" fill="#1f988b"/><rect x="207.15" y="272.76" width="12.92" height="12.06" fill="#355e8d"/><rect x="219.47" y="272.76" width="12.92" height="12.06" fill="#fde725"/><rect x="231.79" y="272.76" width="12.92" height="12.06" fill="#3e4c8a"/><rect x="244.11" y="272.76" width="12.92" height="12.06" fill="#25ac82"/><rect x="256.42" y="272.76" width="12.92" height="12.06" fill="#50c46a"/><rect x="268.74" y="272.76" width="12.92" height="12.06" fill="#3d4d8a"/><rect x="281.06" y="272.76" width="12.92" height="12.06" fill="#443a83"/><rect x="293.38" y="272.76" width="12.92" height="12.06" fill="#2a768e"/><rect x="305.69" y="272.76" width="12.92" height="12.06" fill="#218e8d"/><rect x="318.01" y="272.76" width="12.92" height="12.06" fill="#1f9a8a"/><rect x="330.33" y="272.76" width="12.92" height="12.06" fill="#21918c"/><rect x="342.65" y="272.76" width="12.92" height="12.06" fill="#228d8d"/><rect x="354.96" y="272.76" width="12.92" height="12.06" fill="#20928c"/><rect x="367.28" y="272.76" width="12.32" height="12.06" fill="#443a83"/>
<rect x="170.20" y="284.22" width="12.92" height="12.06" fill="#4cc26c"/><rect x="182.52" y="284.22" width="12.92" height="12.06" fill="#22a785"/><rect x="194.84" y="284.22" width="12.92" height="12.06" fill="#46337f"/><rect x="207.15" y="284.22" width="12.92" height="12.06" fill="#60ca60"/><rect x="219.47" y="284.22" width="12.92" height="12.06" fill="#3e4c8a"/><rect x="231.79" y="284.22" width="12.92" height="12.06" fill="#fde725"/><rect x="244.11" y="284.22" width="12.92" height="12.06" fill="#482475"/><rect x="256.42" y="284.22" width="12.92" height="12.06" fill="#440154"/><rect x="268.74" y="284.22" width="12.92" height="12.06" fill="#73d056"/><rect x="281.06" y="284.22" width="12.92" height="12.06" fill="#b5de2b"/><rect x="293.38" y="284.22" width="12.92" height="12.06" fill="#1e9d89"/><rect x="305.69" y="284.22" width="12.92" height="12.06" fill="#20a486"/><rect x="318.01" y="284.22" width="12.92" height="12.06" fill="#277e8e"/><rect x="330.33" y="284.22" width="12.92" height="12.06" fill="#423f85"/><rect x="342.65" y="284.22" width="12.92" height="12.06" fill="#23898e"/><rect x="354.96" y="284.22" width="12.92" height="12.06" fill="#2d718e"/><rect x="367.28" y="284.22" width="12.32" height="12.06" fill="#46c06f"/>
<rect x="170.20" y="295.69" width="12.92" height="12.06" fill="#460b5e"/><rect x="182.52" y="295.69" width="12.92" height="12.06" fill="#472f7d"/><rect x="194.84" y="295.69" width="12.92" height="12.06" fill="#1fa187"/><rect x="207.15" y="295.69" width="12.92" height="12.06" fill="#46075a"/><rect x="219.47" y="295.69" width="12.92" height="12.06" fill="#25ac82"/><rect x="231.79" y="295.69" width="12.92" height="12.06" fill="#482475"/><rect x="244.11" y="295.69" width="12.92" height="12.06" fill="#fde725"/><rect x="256.42" y="295.69" width="12.92" height="12.06" fill="#a5db36"/><rect x="268.74" y="295.69" width="12.92" height="12.06" fill="#31668e"/><rect x="281.06" y="295.69" width="12.92" height="12.06" fill="#3c508b"/><rect x="293.38" y="295.69" width="12.92" height="12.06" fill="#1e9b8a"/><rect x="305.69" y="295.69" width="12.92" height="12.06" fill="#2b748e"/><rect x="318.01" y="295.69" width="12.92" height="12.06" fill="#297b8e"/><rect x="330.33" y="295.69" width="12.92" height="12.06" fill="#228b8d"/><rect x="342.65" y="295.69" width="12.92" height="12.06" fill="#375b8d"/><rect x="354.96" y="295.69" width="12.92" height="12.06" fill="#2a768e"/><rect x="367.28" y="295.69" width="12.32" height="12.06" fill="#46075a"/>
<rect x="170.20" y="307.15" width="12.92" height="12.06" fill="#482878"/><rect x="182.52" y="307.15" width="12.92" height="12.06" fill="#414287"/><rect x="194.84" y="307.15" width="12.92" height="12.06" fill="#1fa088"/><rect x="207.15" y="307.15" width="12.92" height="12.06" fill="#481b6d"/><rect x="219.47" y="307.15" width="12.92" height="12.06" fill="#50c46a"/><rect x="231.79" y="307.15" width="12.92" height="12.06" fill="#440154"/><rect x="244.11" y="307.15" width="12.92" height="12.06" fill="#a5db36"/><rect x="256.42" y="307.15" width="12.92" height="12.06" fill="#fde725"/><rect x="268.74" y="307.15" width="12.92" height="12.06" fill="#433d84"/><rect x="281.06" y="307.15" width="12.92" height="12.06" fill="#482576"/><rect x="293.38" y="307.15" width="12.92" height="12.06" fill="#297b8e"/><rect x="305.69" y="307.15" width="12.92" height="12.06" fill="#2a768e"/><rect x="318.01" y="307.15" width="12.92" height="12.06" fill="#228d8d"/><rect x="330.33" y="307.15" width="12.92" height="12.06" fill="#25ac82"/><rect x="342.65" y="307.15" width="12.92" height="12.06" fill="#2e6f8e"/><rect x="354.96" y="307.15" width="12.92" height="12.06" fill="#23888e"/><rect x="367.28" y="307.15" width="12.32" height="12.06" fill="#440154"/>
<rect x="170.20" y="318.62" width="12.92" height="12.06" fill="#2a768e"/><rect x="182.52" y="318.62" width="12.92" height="12.06" fill="#2f6c8e"/><rect x="194.84" y="318.62" width="12.92" height="12.06" fill="#423f85"/><rect x="207.15" y="318.62" width="12.92" height="12.06" fill="#26818e"/><rect x="219.47" y="318.62" width="12.92" height="12.06" fill="#3d4d8a"/><rect x="231.79" y="318.62" width="12.92" height="12.06" fill="#73d056"/><rect x="244.11" y="318.62" width="12.92" height="12.06" fill="#31668e"/><rect x="256.42" y="318.62" width="12.92" height="12.06" fill="#433d84"/><rect x="268.74" y="318.62" width="12.92" height="12.06" fill="#fde725"/><rect x="281.06" y="318.62" width="12.92" height="12.06" fill="#d0e11c"/><rect x="293.38" y="318.62" width="12.92" height="12.06" fill="#9dd93b"/><rect x="305.69" y="318.62" width="12.92" height="12.06" fill="#20938c"/><rect x="318.01" y="318.62" width="12.92" height="12.06" fill="#3b528b"/><rect x="330.33" y="318.62" width="12.92" height="12.06" fill="#46327e"/><rect x="342.65" y="318.62" width="12.92" height="12.06" fill="#3c508b"/><rect x="354.96" y="318.62" width="12.92" height="12.06" fill="#443a83"/><rect x="367.28" y="318.62" width="12.32" height="12.06" fill="#20928c"/>
<rect x="170.20" y="330.08" width="12.92" height="12.06" fill="#1f978b"/><rect x="182.52" y="330.08" width="12.92" height="12.06" fill="#26818e"/><rect x="194.84" y="330.08" width="12.92" height="12.06" fill="#453581"/><rect x="207.15" y="330.08" width="12.92" height="12.06" fill="#20a486"/><rect x="219.47" y="330.08" width="12.92" height="12.06" fill="#443a83"/><rect x="231.79" y="330.08" width="12.92" height="12.06" fill="#b5de2b"/><rect x="244.11" y="330.08" width="12.92" height="12.06" fill="#3c508b"/><rect x="256.42" y="330.08" width="12.92" height="12.06" fill="#482576"/><rect x="268.74" y="330.08" width="12.92" height="12.06" fill="#d0e11c"/><rect x="281.06" y="330.08" width="12.92" height="12.06" fill="#fde725"/><rect x="293.38" y="330.08" width="12.92" height="12.06" fill="#5cc863"/><rect x="305.69" y="330.08" width="12.92" height="12.06" fill="#21918c"/><rect x="318.01" y="330.08" width="12.92" height="12.06" fill="#38588c"/><rect x="330.33" y="330.08" width="12.92" height="12.06" fill="#481f70"/><rect x="342.65" y="330.08" width="12.92" height="12.06" fill="#31678e"/><rect x="354.96" y="330.08" width="12.92" height="12.06" fill="#3e4c8a"/><rect x="367.28" y="330.08" width="12.32" height="12.06" fill="#75d054"/>
<rect x="170.20" y="341.55" width="12.92" height="12.06" fill="#3e4989"/><rect x="182.52" y="341.55" width="12.92" height="12.06" fill="#3a538b"/><rect x="194.84" y="341.55" width="12.92" height="12.06" fill="#31678e"/><rect x="207.15" y="341.55" width="12.92" height="12.06" fill="#3b528b"/><rect x="219.47" y="341.55" width="12.92" height="12.06" fill="#2a768e"/><rect x="231.79" y="341.55" width="12.92" height="12.06" fill="#1e9d89"/><rect x="244.11" y="341.55" width="12.92" height="12.06" fill="#1e9b8a"/><rect x="256.42" y="341.55" width="12.92" height="12.06" fill="#297b8e"/><rect x="268.74" y="341.55" width="12.92" height="12.06" fill="#9dd93b"/><rect x="281.06" y="341.55" width="12.92" height="12.06" fill="#5cc863"/><rect x="293.38" y="341.55" width="12.92" height="12.06" fill="#fde725"/><rect x="305.69" y="341.55" width="12.92" height="12.06" fill="#1e9b8a"/><rect x="318.01" y="341.55" width="12.92" height="12.06" fill="#355f8d"/><rect x="330.33" y="341.55" width="12.92" height="12.06" fill="#414287"/><rect x="342.65" y="341.55" width="12.92" height="12.06" fill="#3d4d8a"/><rect x="354.96" y="341.55" width="12.92" height="12.06" fill="#414487"/><rect x="367.28" y="341.55" width="12.32" height="12.06" fill="#433d84"/>
<rect x="170.20" y="353.01" width="12.92" height="12.06" fill="#1f988b"/><rect x="182.52" y="353.01" width="12.92" height="12.06" fill="#5cc863"/><rect x="194.84" y="353.01" width="12.92" height="12.06" fill="#1f988b"/><rect x="207.15" y="353.01" width="12.92" height="12.06" fill="#20928c"/><rect x="219.47" y="353.01" width="12.92" height="12.06" fill="#218e8d"/><rect x="231.79" y="353.01" width="12.92" height="12.06" fill="#20a486"/><rect x="244.11" y="353.01" width="12.92" height="12.06" fill="#2b748e"/><rect x="256.42" y="353.01" width="12.92" height="12.06" fill="#2a768e"/><rect x="268.74" y="353.01" width="12.92" height="12.06" fill="#20938c"/><rect x="281.06" y="353.01" width="12.92" height="12.06" fill="#21918c"/><rect x="293.38" y="353.01" width="12.92" height="12.06" fill="#1e9b8a"/><rect x="305.69" y="353.01" width="12.92" height="12.06" fill="#fde725"/><rect x="318.01" y="353.01" width="12.92" height="12.06" fill="#67cc5c"/><rect x="330.33" y="353.01" width="12.92" height="12.06" fill="#21908d"/><rect x="342.65" y="353.01" width="12.92" height="12.06" fill="#38b977"/><rect x="354.96" y="353.01" width="12.92" height="12.06" fill="#50c46a"/><rect x="367.28" y="353.01" width="12.32" height="12.06" fill="#3c4f8a"/>
<rect x="170.20" y="364.48" width="12.92" height="12.06" fill="#2cb17e"/><rect x="182.52" y="364.48" width="12.92" height="12.06" fill="#38b977"/><rect x="194.84" y="364.48" width="12.92" height="12.06" fill="#228d8d"/><rect x="207.15" y="364.48" width="12.92" height="12.06" fill="#21a585"/><rect x="219.47" y="364.48" width="12.92" height="12.06" fill="#1f9a8a"/><rect x="231.79" y="364.48" width="12.92" height="12.06" fill="#277e8e"/><rect x="244.11" y="364.48" width="12.92" height="12.06" fill="#297b8e"/><rect x="256.42" y="364.48" width="12.92" height="12.06" fill="#228d8d"/><rect x="268.74" y="364.48" width="12.92" height="12.06" fill="#3b528b"/><rect x="281.06" y="364.48" width="12.92" height="12.06" fill="#38588c"/><rect x="293.38" y="364.48" width="12.92" height="12.06" fill="#355f8d"/><rect x="305.69" y="364.48" width="12.92" height="12.06" fill="#67cc5c"/><rect x="318.01" y="364.48" width="12.92" height="12.06" fill="#fde725"/><rect x="330.33" y="364.48" width="12.92" height="12.06" fill="#a0da39"/><rect x="342.65" y="364.48" width="12.92" height="12.06" fill="#84d44b"/><rect x="354.96" y="364.48" width="12.92" height="12.06" fill="#aadc32"/><rect x="367.28" y="364.48" width="12.32" height="12.06" fill="#3f4788"/>
<rect x="170.20" y="375.94" width="12.92" height="12.06" fill="#26828e"/><rect x="182.52" y="375.94" width="12.92" height="12.06" fill="#25838e"/><rect x="194.84" y="375.94" width="12.92" height="12.06" fill="#25858e"/><rect x="207.15" y="375.94" width="12.92" height="12.06" fill="#29798e"/><rect x="219.47" y="375.94" width="12.92" height="12.06" fill="#21918c"/><rect x="231.79" y="375.94" width="12.92" height="12.06" fill="#423f85"/><rect x="244.11" y="375.94" width="12.92" height="12.06" fill="#228b8d"/><rect x="256.42" y="375.94" width="12.92" height="12.06" fill="#25ac82"/><rect x="268.74" y="375.94" width="12.92" height="12.06" fill="#46327e"/><rect x="281.06" y="375.94" width="12.92" height="12.06" fill="#481f70"/><rect x="293.38" y="375.94" width="12.92" height="12.06" fill="#414287"/><rect x="305.69" y="375.94" width="12.92" height="12.06" fill="#21908d"/><rect x="318.01" y="375.94" width="12.92" height="12.06" fill="#a0da39"/><rect x="330.33" y="375.94" width="12.92" height="12.06" fill="#fde725"/><rect x="342.65" y="375.94" width="12.92" height="12.06" fill="#24aa83"/><rect x="354.96" y="375.94" width="12.92" height="12.06" fill="#38b977"/><rect x="367.28" y="375.94" width="12.32" height="12.06" fill="#460a5d"/>
<rect x="170.20" y="387.41" width="12.92" height="12.06" fill="#84d44b"/><rect x="182.52" y="387.41" width="12.92" height="12.06" fill="#95d840"/><rect x="194.84" y="387.41" width="12.92" height="12.06" fill="#1fa287"/><rect x="207.15" y="387.41" width="12.92" height="12.06" fill="#67cc5c"/><rect x="219.47" y="387.41" width="12.92" height="12.06" fill="#228d8d"/><rect x="231.79" y="387.41" width="12.92" height="12.06" fill="#23898e"/><rect x="244.11" y="387.41" width="12.92" height="12.06" fill="#375b8d"/><rect x="256.42" y="387.41" width="12.92" height="12.06" fill="#2e6f8e"/><rect x="268.74" y="387.41" width="12.92" height="12.06" fill="#3c508b"/><rect x="281.06" y="387.41" width="12.92" height="12.06" fill="#31678e"/><rect x="293.38" y="387.41" width="12.92" height="12.06" fill="#3d4d8a"/><rect x="305.69" y="387.41" width="12.92" height="12.06" fill="#38b977"/><rect x="318.01" y="387.41" width="12.92" height="12.06" fill="#84d44b"/><rect x="330.33" y="387.41" width="12.92" height="12.06" fill="#24aa83"/><rect x="342.65" y="387.41" width="12.92" height="12.06" fill="#fde725"/><rect x="354.96" y="387.41" width="12.92" height="12.06" fill="#dfe318"/><rect x="367.28" y="387.41" width="12.32" height="12.06" fill="#2c718e"/>
<rect x="170.20" y="398.87" width="12.92" height="12.06" fill="#44bf70"/><rect x="182.52" y="398.87" width="12.92" height="12.06" fill="#6ece58"/><rect x="194.84" y="398.87" width="12.92" height="12.06" fill="#2cb17e"/><rect x="207.15" y="398.87" width="12.92" height="12.06" fill="#2cb17e"/><rect x="219.47" y="398.87" width="12.92" height="12.06" fill="#20928c"/><rect x="231.79" y="398.87" width="12.92" height="12.06" fill="#2d718e"/><rect x="244.11" y="398.87" width="12.92" height="12.06" fill="#2a768e"/><rect x="256.42" y="398.87" width="12.92" height="12.06" fill="#23888e"/><rect x="268.74" y="398.87" width="12.92" height="12.06" fill="#443a83"/><rect x="281.06" y="398.87" width="12.92" height="12.06" fill="#3e4c8a"/><rect x="293.38" y="398.87" width="12.92" height="12.06" fill="#414487"/><rect x="305.69" y="398.87" width="12.92" height="12.06" fill="#50c46a"/><rect x="318.01" y="398.87" width="12.92" height="12.06" fill="#aadc32"/><rect x="330.33" y="398.87" width="12.92" height="12.06" fill="#38b977"/><rect x="342.65" y="398.87" width="12.92" height="12.06" fill="#dfe318"/><rect x="354.96" y="398.87" width="12.92" height="12.06" fill="#fde725"/><rect x="367.28" y="398.87" width="12.32" height="12.06" fill="#306a8e"/>
<rect x="170.20" y="410.34" width="12.92" height="11.46" fill="#228d8d"/><rect x="182.52" y="410.34" width="12.92" height="11.46" fill="#1f988b"/><rect x="194.84" y="410.34" width="12.92" height="11.46" fill="#355f8d"/><rect x="207.15" y="410.34" width="12.92" height="11.46" fill="#22a785"/><rect x="219.47" y="410.34" width="12.92" height="11.46" fill="#443a83"/><rect x="231.79" y="410.34" width="12.92" height="11.46" fill="#46c06f"/><rect x="244.11" y="410.34" width="12.92" height="11.46" fill="#46075a"/><rect x="256.42" y="410.34" width="12.92" height="11.46" fill="#440154"/><rect x="268.74" y="410.34" width="12.92" height="11.46" fill="#20928c"/><rect x="281.06" y="410.34" width="12.92" height="11.46" fill="#75d054"/><rect x="293.38" y="410.34" width="12.92" height="11.46" fill="#433d84"/><rect x="305.69" y="410.34" width="12.92" height="11.46" fill="#3c4f8a"/><rect x="318.01" y="410.34" width="12.92" height="11.46" fill="#3f4788"/><rect x="330.33" y="410.34" width="12.92" height="11.46" fill="#460a5d"/><rect x="342.65" y="410.34" width="12.92" height="11.46" fill="#2c718e"/><rect x="354.96" y="410.34" width="12.92" height="11.46" fill="#306a8e"/><rect x="367.28" y="410.34" width="12.32" height="11.46" fill="#fde725"/>
</g>
<g font-size="4.25">
<text class="an d" x="176.36" y="233.64">1.00</text><text class="an d" x="188.68" y="233.64">0.81</text><text class="an w" x="200.99" y="233.64">-0.02</text><text class="an d" x="213.31" y="233.64">0.98</text><text class="an w" x="225.63" y="233.64">-0.08</text><text class="an d" x="237.95" y="233.64">0.54</text><text class="an w" x="250.26" y="233.64">-0.58</text><text class="an w" x="262.58" y="233.64">-0.45</text><text class="an w" x="274.90" y="233.64">0.01</text><text class="an w" x="287.22" y="233.64">0.23</text><text class="an w" x="299.54" y="233.64">-0.27</text><text class="an w" x="311.85" y="233.64">0.24</text><text class="an w" x="324.17" y="233.64">0.41</text><text class="an w" x="336.49" y="233.64">0.09</text><text class="an d" x="348.81" y="233.64">0.70</text><text class="an w" x="361.12" y="233.64">0.51</text><text class="an w" x="373.44" y="233.64">0.16</text>
<text class="an d" x="176.36" y="245.10">0.81</text><text class="an d" x="188.68" y="245.10">1.00</text><text class="an w" x="200.99" y="245.10">0.24</text><text class="an d" x="213.31" y="245.10">0.76</text><text class="an w" x="225.63" y="245.10">-0.03</text><text class="an w" x="237.95" y="245.10">0.34</text><text class="an w" x="250.26" y="245.10">-0.41</text><text class="an w" x="262.58" y="245.10">-0.31</text><text class="an w" x="274.90" y="245.10">-0.06</text><text class="an w" x="287.22" y="245.10">0.08</text><text class="an w" x="299.54" y="245.10">-0.21</text><text class="an d" x="311.85" y="245.10">0.59</text><text class="an w" x="324.17" y="245.10">0.47</text><text class="an w" x="336.49" y="245.10">0.10</text><text class="an d" x="348.81" y="245.10">0.74</text><text class="an d" x="361.12" y="245.10">0.64</text><text class="an w" x="373.44" y="245.10">0.24</text>
<text class="an w" x="176.36" y="256.57">-0.02</text><text class="an w" x="188.68" y="256.57">0.24</text><text class="an d" x="200.99" y="256.57">1.00</text><text class="an w" x="213.31" y="256.57">-0.07</text><text class="an w" x="225.63" y="256.57">0.24</text><text class="an w" x="237.95" y="256.57">-0.39</text><text class="an w" x="250.26" y="256.57">0.30</text><text class="an w" x="262.58" y="256.57">0.29</text><text class="an w" x="274.90" y="256.57">-0.33</text><text class="an w" x="287.22" y="256.57">-0.38</text><text class="an w" x="299.54" y="256.57">-0.09</text><text class="an w" x="311.85" y="256.57">0.24</text><text class="an w" x="324.17" y="256.57">0.16</text><text class="an w" x="336.49" y="256.57">0.11</text><text class="an w" x="348.81" y="256.57">0.31</text><text class="an w" x="361.12" y="256.57">0.41</text><text class="an w" x="373.44" y="256.57">-0.14</text>
<text class="an d" x="176.36" y="268.03">0.98</text><text class="an d" x="188.68" y="268.03">0.76</text><text class="an w" x="200.99" y="268.03">-0.07</text><text class="an d" x="213.31" y="268.03">1.00</text><text class="an w" x="225.63" y="268.03">-0.15</text><text class="an d" x="237.95" y="268.03">0.60</text><text class="an w" x="250.26" y="268.03">-0.60</text><text class="an w" x="262.58" y="268.03">-0.51</text><text class="an w" x="274.90" y="268.03">0.08</text><text class="an w" x="287.22" y="268.03">0.32</text><text class="an w" x="299.54" y="268.03">-0.22</text><text class="an w" x="311.85" y="268.03">0.20</text><text class="an w" x="324.17" y="268.03">0.33</text><text class="an w" x="336.49" y="268.03">0.03</text><text class="an d" x="348.81" y="268.03">0.62</text><text class="an w" x="361.12" y="268.03">0.41</text><text class="an w" x="373.44" y="268.03">0.34</text>
<text class="an w" x="176.36" y="279.50">-0.08</text><text class="an w" x="188.68" y="279.50">-0.03</text><text class="an w" x="200.99" y="279.50">0.24</text><text class="an w" x="213.31" y="279.50">-0.15</text><text class="an d" x="225.63" y="279.50">1.00</text><text class="an w" x="237.95" y="279.50">-0.26</text><text class="an w" x="250.26" y="279.50">0.37</text><text class="an d" x="262.58" y="279.50">0.55</text><text class="an w" x="274.90" y="279.50">-0.25</text><text class="an w" x="287.22" y="279.50">-0.35</text><text class="an w" x="299.54" y="279.50">0.01</text><text class="an w" x="311.85" y="279.50">0.17</text><text class="an w" x="324.17" y="279.50">0.25</text><text class="an w" x="336.49" y="279.50">0.19</text><text class="an w" x="348.81" y="279.50">0.16</text><text class="an w" x="361.12" y="279.50">0.20</text><text class="an w" x="373.44" y="279.50">-0.35</text>
<text class="an d" x="176.36" y="290.96">0.54</text><text class="an w" x="188.68" y="290.96">0.34</text><text class="an w" x="200.99" y="290.96">-0.39</text><text class="an d" x="213.31" y="290.96">0.60</text><text class="an w" x="225.63" y="290.96">-0.26</text><text class="an d" x="237.95" y="290.96">1.00</text><text class="an w" x="250.26" y="290.96">-0.47</text><text class="an w" x="262.58" y="290.96">-0.63</text><text class="an d" x="274.90" y="290.96">0.65</text><text class="an d" x="287.22" y="290.96">0.82</text><text class="an w" x="299.54" y="290.96">0.27</text><text class="an w" x="311.85" y="290.96">0.32</text><text class="an w" x="324.17" y="290.96">0.06</text><text class="an w" x="336.49" y="290.96">-0.33</text><text class="an w" x="348.81" y="290.96">0.14</text><text class="an w" x="361.12" y="290.96">-0.03</text><text class="an w" x="373.44" y="290.96">0.52</text>
<text class="an w" x="176.36" y="302.42">-0.58</text><text class="an w" x="188.68" y="302.42">-0.41</text><text class="an w" x="200.99" y="302.42">0.30</text><text class="an w" x="213.31" y="302.42">-0.60</text><text class="an w" x="225.63" y="302.42">0.37</text><text class="an w" x="237.95" y="302.42">-0.47</text><text class="an d" x="250.26" y="302.42">1.00</text><text class="an d" x="262.58" y="302.42">0.78</text><text class="an w" x="274.90" y="302.42">-0.10</text><text class="an w" x="287.22" y="302.42">-0.23</text><text class="an w" x="299.54" y="302.42">0.26</text><text class="an w" x="311.85" y="302.42">0.00</text><text class="an w" x="324.17" y="302.42">0.04</text><text class="an w" x="336.49" y="302.42">0.15</text><text class="an w" x="348.81" y="302.42">-0.17</text><text class="an w" x="361.12" y="302.42">0.01</text><text class="an w" x="373.44" y="302.42">-0.60</text>
<text class="an w" x="176.36" y="313.89">-0.45</text><text class="an w" x="188.68" y="313.89">-0.31</text><text class="an w" x="200.99" y="313.89">0.29</text><text class="an w" x="213.31" y="313.89">-0.51</text><text class="an d" x="225.63" y="313.89">0.55</text><text class="an w" x="237.95" y="313.89">-0.63</text><text class="an d" x="250.26" y="313.89">0.78</text><text class="an d" x="262.58" y="313.89">1.00</text><text class="an w" x="274.90" y="313.89">-0.34</text><text class="an w" x="287.22" y="313.89">-0.46</text><text class="an w" x="299.54" y="313.89">0.04</text><text class="an w" x="311.85" y="313.89">0.01</text><text class="an w" x="324.17" y="313.89">0.16</text><text class="an w" x="336.49" y="313.89">0.37</text><text class="an w" x="348.81" y="313.89">-0.04</text><text class="an w" x="361.12" y="313.89">0.13</text><text class="an w" x="373.44" y="313.89">-0.63</text>
<text class="an w" x="176.36" y="325.35">0.01</text><text class="an w" x="188.68" y="325.35">-0.06</text><text class="an w" x="200.99" y="325.35">-0.33</text><text class="an w" x="213.31" y="325.35">0.08</text><text class="an w" x="225.63" y="325.35">-0.25</text><text class="an d" x="237.95" y="325.35">0.65</text><text class="an w" x="250.26" y="325.35">-0.10</text><text class="an w" x="262.58" y="325.35">-0.34</text><text class="an d" x="274.90" y="325.35">1.00</text><text class="an d" x="287.22" y="325.35">0.88</text><text class="an d" x="299.54" y="325.35">0.76</text><text class="an w" x="311.85" y="325.35">0.21</text><text class="an w" x="324.17" y="325.35">-0.22</text><text class="an w" x="336.49" y="325.35">-0.40</text><text class="an w" x="348.81" y="325.35">-0.23</text><text class="an w" x="361.12" y="325.35">-0.35</text><text class="an w" x="373.44" y="325.35">0.20</text>
<text class="an w" x="176.36" y="336.82">0.23</text><text class="an w" x="188.68" y="336.82">0.08</text><text class="an w" x="200.99" y="336.82">-0.38</text><text class="an w" x="213.31" y="336.82">0.32</text><text class="an w" x="225.63" y="336.82">-0.35</text><text class="an d" x="237.95" y="336.82">0.82</text><text class="an w" x="250.26" y="336.82">-0.23</text><text class="an w" x="262.58" y="336.82">-0.46</text><text class="an d" x="274.90" y="336.82">0.88</text><text class="an d" x="287.22" y="336.82">1.00</text><text class="an d" x="299.54" y="336.82">0.59</text><text class="an w" x="311.85" y="336.82">0.19</text><text class="an w" x="324.17" y="336.82">-0.19</text><text class="an w" x="336.49" y="336.82">-0.49</text><text class="an w" x="348.81" y="336.82">-0.09</text><text class="an w" x="361.12" y="336.82">-0.26</text><text class="an d" x="373.44" y="336.82">0.66</text>
<text class="an w" x="176.36" y="348.28">-0.27</text><text class="an w" x="188.68" y="348.28">-0.21</text><text class="an w" x="200.99" y="348.28">-0.09</text><text class="an w" x="213.31" y="348.28">-0.22</text><text class="an w" x="225.63" y="348.28">0.01</text><text class="an w" x="237.95" y="348.28">0.27</text><text class="an w" x="250.26" y="348.28">0.26</text><text class="an w" x="262.58" y="348.28">0.04</text><text class="an d" x="274.90" y="348.28">0.76</text><text class="an d" x="287.22" y="348.28">0.59</text><text class="an d" x="299.54" y="348.28">1.00</text><text class="an w" x="311.85" y="348.28">0.26</text><text class="an w" x="324.17" y="348.28">-0.14</text><text class="an w" x="336.49" y="348.28">-0.31</text><text class="an w" x="348.81" y="348.28">-0.25</text><text class="an w" x="361.12" y="348.28">-0.30</text><text class="an w" x="373.44" y="348.28">-0.34</text>
<text class="an w" x="176.36" y="359.75">0.24</text><text class="an d" x="188.68" y="359.75">0.59</text><text class="an w" x="200.99" y="359.75">0.24</text><text class="an w" x="213.31" y="359.75">0.20</text><text class="an w" x="225.63" y="359.75">0.17</text><text class="an w" x="237.95" y="359.75">0.32</text><text class="an w" x="250.26" y="359.75">0.00</text><text class="an w" x="262.58" y="359.75">0.01</text><text class="an w" x="274.90" y="359.75">0.21</text><text class="an w" x="287.22" y="359.75">0.19</text><text class="an w" x="299.54" y="359.75">0.26</text><text class="an d" x="311.85" y="359.75">1.00</text><text class="an d" x="324.17" y="359.75">0.62</text><text class="an w" x="336.49" y="359.75">0.18</text><text class="an w" x="348.81" y="359.75">0.47</text><text class="an d" x="361.12" y="359.75">0.55</text><text class="an w" x="373.44" y="359.75">-0.24</text>
<text class="an w" x="176.36" y="371.21">0.41</text><text class="an w" x="188.68" y="371.21">0.47</text><text class="an w" x="200.99" y="371.21">0.16</text><text class="an w" x="213.31" y="371.21">0.33</text><text class="an w" x="225.63" y="371.21">0.25</text><text class="an w" x="237.95" y="371.21">0.06</text><text class="an w" x="250.26" y="371.21">0.04</text><text class="an w" x="262.58" y="371.21">0.16</text><text class="an w" x="274.90" y="371.21">-0.22</text><text class="an w" x="287.22" y="371.21">-0.19</text><text class="an w" x="299.54" y="371.21">-0.14</text><text class="an d" x="311.85" y="371.21">0.62</text><text class="an d" x="324.17" y="371.21">1.00</text><text class="an d" x="336.49" y="371.21">0.77</text><text class="an d" x="348.81" y="371.21">0.70</text><text class="an d" x="361.12" y="371.21">0.79</text><text class="an w" x="373.44" y="371.21">-0.28</text>
<text class="an w" x="176.36" y="382.68">0.09</text><text class="an w" x="188.68" y="382.68">0.10</text><text class="an w" x="200.99" y="382.68">0.11</text><text class="an w" x="213.31" y="382.68">0.03</text><text class="an w" x="225.63" y="382.68">0.19</text><text class="an w" x="237.95" y="382.68">-0.33</text><text class="an w" x="250.26" y="382.68">0.15</text><text class="an w" x="262.58" y="382.68">0.37</text><text class="an w" x="274.90" y="382.68">-0.40</text><text class="an w" x="287.22" y="382.68">-0.49</text><text class="an w" x="299.54" y="382.68">-0.31</text><text class="an w" x="311.85" y="382.68">0.18</text><text class="an d" x="324.17" y="382.68">0.77</text><text class="an d" x="336.49" y="382.68">1.00</text><text class="an w" x="348.81" y="382.68">0.36</text><text class="an w" x="361.12" y="382.68">0.47</text><text class="an w" x="373.44" y="382.68">-0.59</text>
<text class="an d" x="176.36" y="394.14">0.70</text><text class="an d" x="188.68" y="394.14">0.74</text><text class="an w" x="200.99" y="394.14">0.31</text><text class="an d" x="213.31" y="394.14">0.62</text><text class="an w" x="225.63" y="394.14">0.16</text><text class="an w" x="237.95" y="394.14">0.14</text><text class="an w" x="250.26" y="394.14">-0.17</text><text class="an w" x="262.58" y="394.14">-0.04</text><text class="an w" x="274.90" y="394.14">-0.23</text><text class="an w" x="287.22" y="394.14">-0.09</text><text class="an w" x="299.54" y="394.14">-0.25</text><text class="an w" x="311.85" y="394.14">0.47</text><text class="an d" x="324.17" y="394.14">0.70</text><text class="an w" x="336.49" y="394.14">0.36</text><text class="an d" x="348.81" y="394.14">1.00</text><text class="an d" x="361.12" y="394.14">0.92</text><text class="an w" x="373.44" y="394.14">-0.02</text>
<text class="an w" x="176.36" y="405.61">0.51</text><text class="an d" x="188.68" y="405.61">0.64</text><text class="an w" x="200.99" y="405.61">0.41</text><text class="an w" x="213.31" y="405.61">0.41</text><text class="an w" x="225.63" y="405.61">0.20</text><text class="an w" x="237.95" y="405.61">-0.03</text><text class="an w" x="250.26" y="405.61">0.01</text><text class="an w" x="262.58" y="405.61">0.13</text><text class="an w" x="274.90" y="405.61">-0.35</text><text class="an w" x="287.22" y="405.61">-0.26</text><text class="an w" x="299.54" y="405.61">-0.30</text><text class="an d" x="311.85" y="405.61">0.55</text><text class="an d" x="324.17" y="405.61">0.79</text><text class="an w" x="336.49" y="405.61">0.47</text><text class="an d" x="348.81" y="405.61">0.92</text><text class="an d" x="361.12" y="405.61">1.00</text><text class="an w" x="373.44" y="405.61">-0.07</text>
<text class="an w" x="176.36" y="417.07">0.16</text><text class="an w" x="188.68" y="417.07">0.24</text><text class="an w" x="200.99" y="417.07">-0.14</text><text class="an w" x="213.31" y="417.07">0.34</text><text class="an w" x="225.63" y="417.07">-0.35</text><text class="an w" x="237.95" y="417.07">0.52</text><text class="an w" x="250.26" y="417.07">-0.60</text><text class="an w" x="262.58" y="417.07">-0.63</text><text class="an w" x="274.90" y="417.07">0.20</text><text class="an d" x="287.22" y="417.07">0.66</text><text class="an w" x="299.54" y="417.07">-0.34</text><text class="an w" x="311.85" y="417.07">-0.24</text><text class="an w" x="324.17" y="417.07">-0.28</text><text class="an w" x="336.49" y="417.07">-0.59</text><text class="an w" x="348.81" y="417.07">-0.02</text><text class="an w" x="361.12" y="417.07">-0.07</text><text class="an d" x="373.44" y="417.07">1.00</text>
</g>
<g font-size="5.39">
<line class="tk" x1="168.60" y1="232.63" x2="170.20" y2="232.63"/><text class="yl" x="168.20" y="234.21">NDVI</text>
<line class="tk" x1="168.60" y1="244.10" x2="170.20" y2="244.10"/><text class="yl" x="168.20" y="245.68">EVI</text>
<line class="tk" x1="168.60" y1="255.56" x2="170.20" y2="255.56"/><text class="yl" x="168.20" y="257.14">NDWI</text>
<line class="tk" x1="168.60" y1="267.03" x2="170.20" y2="267.03"/><text class="yl" x="168.20" y="268.61">kNDVI</text>
<line class="tk" x1="168.60" y1="278.49" x2="170.20" y2="278.49"/><text class="yl" x="168.20" y="280.07">Pdsi</text>
<line class="tk" x1="168.60" y1="289.96" x2="170.20" y2="289.96"/><text class="yl" x="168.20" y="291.54">Pet</text>
<line class="tk" x1="168.60" y1="301.42" x2="170.20" y2="301.42"/><text class="yl" x="168.20" y="303.00">Pr</text>
<line class="tk" x1="168.60" y1="312.89" x2="170.20" y2="312.89"/><text class="yl" x="168.20" y="314.47">Soil</text>
<line class="tk" x1="168.60" y1="324.35" x2="170.20" y2="324.35"/><text class="yl" x="168.20" y="325.93">Tmmn</text>
<line class="tk" x1="168.60" y1="335.81" x2="170.20" y2="335.81"/><text class="yl" x="168.20" y="337.39">Tmmx</text>
<line class="tk" x1="168.60" y1="347.28" x2="170.20" y2="347.28"/><text class="yl" x="168.20" y="348.86">Vap</text>
<line class="tk" x1="168.60" y1="358.74" x2="170.20" y2="358.74"/><text class="yl" x="168.20" y="360.32">SIF</text>
<line class="tk" x1="168.60" y1="370.21" x2="170.20" y2="370.21"/><text class="yl" x="168.20" y="371.79">Gpp</text>
<line class="tk" x1="168.60" y1="381.67" x2="170.20" y2="381.67"/><text class="yl" x="168.20" y="383.25">PsnNet</text>
<line class="tk" x1="168.60" y1="393.14" x2="170.20" y2="393.14"/><text class="yl" x="168.20" y="394.72">Fpar</text>
<line class="tk" x1="168.60" y1="404.60" x2="170.20" y2="404.60"/><text class="yl" x="168.20" y="406.18">Lai</text>
<line class="tk" x1="168.60" y1="416.07" x2="170.20" y2="416.07"/><text class="yl" x="168.20" y="417.65">Yield(kg/ha)</text>
<line class="tk" x1="176.36" y1="421.80" x2="176.36" y2="423.40"/><text class="xl" transform="translate(176.36 430.58) rotate(-45)" y="1.78">NDVI</text>
<line class="tk" x1="188.68" y1="421.80" x2="188.68" y2="423.40"/><text class="xl" transform="translate(188.68 428.99) rotate(-45)" y="1.78">EVI</text>
<line class="tk" x1="200.99" y1="421.80" x2="200.99" y2="423.40"/><text class="xl" transform="translate(200.99 431.00) rotate(-45)" y="1.78">NDWI</text>
<line class="tk" x1="213.31" y1="421.80" x2="213.31" y2="423.40"/><text class="xl" transform="translate(213.31 431.53) rotate(-45)" y="1.78">kNDVI</text>
<line class="tk" x1="225.63" y1="421.80" x2="225.63" y2="423.40"/><text class="xl" transform="translate(225.63 429.10) rotate(-45)" y="1.78">Pdsi</text>
<line class="tk" x1="237.95" y1="421.80" x2="237.95" y2="423.40"/><text class="xl" transform="translate(237.95 428.25) rotate(-45)" y="1.78">Pet</text>
<line class="tk" x1="250.26" y1="421.80" x2="250.26" y2="423.40"/><text class="xl" transform="translate(250.26 427.51) rotate(-45)" y="1.78">Pr</text>
<line class="tk" x1="262.58" y1="421.80" x2="262.58" y2="423.40"/><text class="xl" transform="translate(262.58 428.89) rotate(-45)" y="1.78">Soil</text>
<line class="tk" x1="274.90" y1="421.80" x2="274.90" y2="423.40"/><text class="xl" transform="translate(274.90 430.90) rotate(-45)" y="1.78">Tmmn</text>
<line class="tk" x1="287.22" y1="421.80" x2="287.22" y2="423.40"/><text class="xl" transform="translate(287.22 430.90) rotate(-45)" y="1.78">Tmmx</text>
<line class="tk" x1="299.54" y1="421.80" x2="299.54" y2="423.40"/><text class="xl" transform="translate(299.54 428.99) rotate(-45)" y="1.78">Vap</text>
<line class="tk" x1="311.85" y1="421.80" x2="311.85" y2="423.40"/><text class="xl" transform="translate(311.85 428.57) rotate(-45)" y="1.78">SIF</text>
<line class="tk" x1="324.17" y1="421.80" x2="324.17" y2="423.40"/><text class="xl" transform="translate(324.17 429.10) rotate(-45)" y="1.78">Gpp</text>
<line class="tk" x1="336.49" y1="421.80" x2="336.49" y2="423.40"/><text class="xl" transform="translate(336.49 431.33) rotate(-45)" y="1.78">PsnNet</text>
<line class="tk" x1="348.81" y1="421.80" x2="348.81" y2="423.40"/><text class="xl" transform="translate(348.81 429.31) rotate(-45)" y="1.78">Fpar</text>
<line class="tk" x1="361.12" y1="421.80" x2="361.12" y2="423.40"/><text class="xl" transform="translate(361.12 428.36) rotate(-45)" y="1.78">Lai</text>
<line class="tk" x1="373.44" y1="421.80" x2="373.44" y2="423.40"/><text class="xl" transform="translate(373.44 435.56) rotate(-45)" y="1.78">Yield(kg/ha)</text>
</g>
<g>
<circle class="st" cx="382.90" cy="232.88" r="1.22"/>
<circle class="st" cx="382.90" cy="244.35" r="1.22"/>
<circle class="st" cx="382.90" cy="255.81" r="1.22"/>
<circle class="st" cx="382.90" cy="267.28" r="1.22"/>
<circle class="st" cx="382.90" cy="278.74" r="1.22"/>
<circle class="st" cx="382.90" cy="290.21" r="1.22"/><circle class="st" cx="386.64" cy="290.21" r="1.22"/>
<circle class="st" cx="382.90" cy="301.67" r="1.22"/><circle class="st" cx="386.64" cy="301.67" r="1.22"/><circle class="st" cx="390.37" cy="301.67" r="1.22"/>
<circle class="st" cx="382.90" cy="313.14" r="1.22"/><circle class="st" cx="386.64" cy="313.14" r="1.22"/><circle class="st" cx="390.37" cy="313.14" r="1.22"/>
<circle class="st" cx="382.90" cy="324.60" r="1.22"/>
<circle class="st" cx="382.90" cy="336.06" r="1.22"/><circle class="st" cx="386.64" cy="336.06" r="1.22"/><circle class="st" cx="390.37" cy="336.06" r="1.22"/>
<circle class="st" cx="382.90" cy="347.53" r="1.22"/>
<circle class="st" cx="382.90" cy="358.99" r="1.22"/>
<circle class="st" cx="382.90" cy="370.46" r="1.22"/>
<circle class="st" cx="382.90" cy="381.92" r="1.22"/><circle class="st" cx="386.64" cy="381.92" r="1.22"/>
</g>
<defs><linearGradient id="vgc" x1="0" y1="0" x2="0" y2="1"><stop offset="0.0000" stop-color="#fde725"/><stop offset="0.0312" stop-color="#ece51b"/><stop offset="0.0625" stop-color="#d8e219"/><stop offset="0.0938" stop-color="#c2df23"/><stop offset="0.1250" stop-color="#addc30"/><stop offset="0.1562" stop-color="#98d83e"/><stop offset="0.1875" stop-color="#84d44b"/><stop offset="0.2188" stop-color="#70cf57"/><stop offset="0.2500" stop-color="#5ec962"/><stop offset="0.2812" stop-color="#4ec36b"/><stop offset="0.3125" stop-color="#3fbc73"/><stop offset="0.3438" stop-color="#32b67a"/><stop offset="0.3750" stop-color="#28ae80"/><stop offset="0.4062" stop-color="#22a785"/><stop offset="0.4375" stop-color="#1fa088"/><stop offset="0.4688" stop-color="#1f988b"/><stop offset="0.5000" stop-color="#21918c"/><stop offset="0.5312" stop-color="#23898e"/><stop offset="0.5625" stop-color="#26828e"/><stop offset="0.5938" stop-color="#297a8e"/><stop offset="0.6250" stop-color="#2c728e"/><stop offset="0.6562" stop-color="#2f6b8e"/><stop offset="0.6875" stop-color="#33638d"/><stop offset="0.7188" stop-color="#375b8d"/><stop offset="0.7500" stop-color="#3b528b"/><stop offset="0.7812" stop-color="#3e4989"/><stop offset="0.8125" stop-color="#424086"/><stop offset="0.8438" stop-color="#453781"/><stop offset="0.8750" stop-color="#472d7b"/><stop offset="0.9062" stop-color="#482374"/><stop offset="0.9375" stop-color="#48186a"/><stop offset="0.9688" stop-color="#470d60"/><stop offset="1.0000" stop-color="#440154"/></linearGradient></defs>
<rect x="392.70" y="226.90" width="9.60" height="194.90" fill="url(#vgc)"/>
<g font-size="3.11">
<line class="tk" x1="402.30" y1="226.90" x2="403.70" y2="226.90"/><text class="cb" x="404.50" y="228.33">1.0</text>
<line class="tk" x1="402.30" y1="250.81" x2="403.70" y2="250.81"/><text class="cb" x="404.50" y="252.24">0.8</text>
<line class="tk" x1="402.30" y1="274.73" x2="403.70" y2="274.73"/><text class="cb" x="404.50" y="276.16">0.6</text>
<line class="tk" x1="402.30" y1="298.64" x2="403.70" y2="298.64"/><text class="cb" x="404.50" y="300.07">0.4</text>
<line class="tk" x1="402.30" y1="322.56" x2="403.70" y2="322.56"/><text class="cb" x="404.50" y="323.98">0.2</text>
<line class="tk" x1="402.30" y1="346.47" x2="403.70" y2="346.47"/><text class="cb" x="404.50" y="347.90">0.0</text>
<line class="tk" x1="402.30" y1="370.38" x2="403.70" y2="370.38"/><text class="cb" x="404.50" y="371.81">−0.2</text>
<line class="tk" x1="402.30" y1="394.30" x2="403.70" y2="394.30"/><text class="cb" x="404.50" y="395.73">−0.4</text>
<line class="tk" x1="402.30" y1="418.21" x2="403.70" y2="418.21"/><text class="cb" x="404.50" y="419.64">−0.6</text>
</g>
</g>
</svg>
</body></html>
